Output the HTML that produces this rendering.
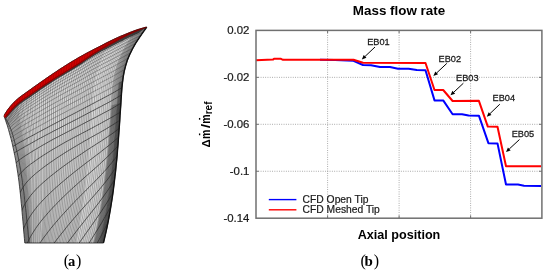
<!DOCTYPE html>
<html><head><meta charset="utf-8"><style>
html,body{margin:0;padding:0;background:#fff;width:550px;height:275px;overflow:hidden}
svg{display:block}
text{font-family:"Liberation Sans",Arial,sans-serif;fill:#1a1a1a}
.tk{font-size:11.4px;stroke:#1a1a1a;stroke-width:0.22px}
.eb{font-size:9.2px;stroke:#1a1a1a;stroke-width:0.26px;letter-spacing:0px}
.lg{font-size:10.3px;stroke:#1a1a1a;stroke-width:0.2px}
.ttl{font-size:13.4px;font-weight:bold;fill:#000}
.xl{font-size:12.6px;font-weight:bold;fill:#000}
.yl{font-size:10.5px;font-weight:bold;fill:#000}
.sub{font-size:9.5px}
.cap{font-family:"Liberation Serif",serif;font-size:16px;fill:#000}
.capb{font-weight:bold;font-size:13.5px}
</style></head><body>
<svg width="550" height="275" viewBox="0 0 550 275" xmlns="http://www.w3.org/2000/svg">
<g><defs><clipPath id="bc"><path d="M4.4,114.9L8.0,109.3L11.7,104.8L15.3,101.0L19.0,97.8L22.6,95.1L26.2,92.5L29.9,89.9L33.5,87.3L37.2,84.7L40.8,82.2L44.5,79.6L48.1,77.1L51.7,74.6L55.4,72.2L59.0,69.7L62.7,67.4L66.3,65.1L69.9,62.8L73.6,60.6L77.2,58.5L80.9,56.4L84.5,54.4L88.1,52.4L91.8,50.5L95.4,48.6L99.1,46.8L102.7,44.9L106.3,43.0L110.0,41.2L113.6,39.4L117.3,37.7L120.9,36.1L124.6,34.7L128.2,33.2L131.8,31.7L135.5,30.4L139.1,29.2L142.8,28.1L146.4,27.1L142.8,32.6L139.0,38.2L135.4,43.7L132.3,49.2L129.6,54.8L127.3,60.3L125.6,65.9L124.2,71.4L123.2,76.9L122.5,82.5L121.9,88.0L121.5,93.5L121.1,99.1L120.8,104.6L120.4,110.1L120.0,115.7L119.7,121.2L119.3,126.7L118.9,132.3L118.5,137.8L118.1,143.4L117.6,148.9L117.2,154.4L116.7,160.0L116.1,165.5L115.6,171.0L114.9,176.6L114.3,182.1L113.6,187.6L112.9,193.2L112.1,198.7L111.2,204.2L110.3,209.8L109.3,215.3L108.3,220.9L107.2,226.4L106.0,231.9L104.7,237.5L103.4,243.0L24.8,243.0L24.4,238.6L24.0,234.3L23.6,229.9L23.3,225.5L22.9,221.2L22.5,216.8L22.1,212.4L21.8,208.1L21.3,203.7L20.9,199.3L20.5,195.0L20.0,190.6L19.5,186.2L19.0,181.9L18.4,177.5L17.8,173.2L17.1,168.8L16.4,164.4L15.7,160.1L14.8,155.7L13.9,151.3L13.0,147.0L12.0,142.6L10.9,138.2L9.7,133.9L8.5,129.5L7.2,125.1L5.7,120.8L4.2,116.4Z"/></clipPath><linearGradient id="bg" x1="0" y1="0" x2="1" y2="0" gradientUnits="userSpaceOnUse" gradientTransform="translate(0,0)"></linearGradient></defs><defs><linearGradient id="bf" x1="0" y1="27" x2="0" y2="243" gradientUnits="userSpaceOnUse"><stop offset="0" stop-color="#e2e2e2"/><stop offset="0.4" stop-color="#d6d6d6"/><stop offset="1" stop-color="#cccccc"/></linearGradient></defs><path d="M4.4,114.9L8.0,109.3L11.7,104.8L15.3,101.0L19.0,97.8L22.6,95.1L26.2,92.5L29.9,89.9L33.5,87.3L37.2,84.7L40.8,82.2L44.5,79.6L48.1,77.1L51.7,74.6L55.4,72.2L59.0,69.7L62.7,67.4L66.3,65.1L69.9,62.8L73.6,60.6L77.2,58.5L80.9,56.4L84.5,54.4L88.1,52.4L91.8,50.5L95.4,48.6L99.1,46.8L102.7,44.9L106.3,43.0L110.0,41.2L113.6,39.4L117.3,37.7L120.9,36.1L124.6,34.7L128.2,33.2L131.8,31.7L135.5,30.4L139.1,29.2L142.8,28.1L146.4,27.1L142.8,32.6L139.0,38.2L135.4,43.7L132.3,49.2L129.6,54.8L127.3,60.3L125.6,65.9L124.2,71.4L123.2,76.9L122.5,82.5L121.9,88.0L121.5,93.5L121.1,99.1L120.8,104.6L120.4,110.1L120.0,115.7L119.7,121.2L119.3,126.7L118.9,132.3L118.5,137.8L118.1,143.4L117.6,148.9L117.2,154.4L116.7,160.0L116.1,165.5L115.6,171.0L114.9,176.6L114.3,182.1L113.6,187.6L112.9,193.2L112.1,198.7L111.2,204.2L110.3,209.8L109.3,215.3L108.3,220.9L107.2,226.4L106.0,231.9L104.7,237.5L103.4,243.0L24.8,243.0L24.4,238.6L24.0,234.3L23.6,229.9L23.3,225.5L22.9,221.2L22.5,216.8L22.1,212.4L21.8,208.1L21.3,203.7L20.9,199.3L20.5,195.0L20.0,190.6L19.5,186.2L19.0,181.9L18.4,177.5L17.8,173.2L17.1,168.8L16.4,164.4L15.7,160.1L14.8,155.7L13.9,151.3L13.0,147.0L12.0,142.6L10.9,138.2L9.7,133.9L8.5,129.5L7.2,125.1L5.7,120.8L4.2,116.4Z" fill="url(#bf)"/><g clip-path="url(#bc)"><path d="M6.3,117.4L8.8,125.8L11.1,134.1L13.1,142.5L14.9,150.9L16.5,159.3L17.8,167.6L19.0,176.0L20.0,184.4L20.9,192.8L21.8,201.1L22.5,209.5L23.2,217.9L23.9,226.3L24.5,234.6L25.2,243.0M7.3,115.6L9.8,124.1L12.0,132.6L14.0,141.1L15.7,149.6L17.2,158.1L18.6,166.6L19.7,175.1L20.7,183.6L21.6,192.0L22.4,200.5L23.1,209.0L23.7,217.5L24.4,226.0L25.0,234.5L25.7,243.0M8.3,113.9L10.8,122.5L12.9,131.1L14.8,139.7L16.5,148.3L18.0,156.9L19.3,165.6L20.4,174.2L21.4,182.8L22.2,191.4L23.0,200.0L23.6,208.6L24.3,217.2L24.9,225.8L25.5,234.4L26.1,243.0M9.4,112.3L11.7,121.0L13.8,129.7L15.7,138.4L17.3,147.1L18.8,155.9L20.0,164.6L21.1,173.3L22.1,182.0L22.9,190.7L23.6,199.4L24.2,208.1L24.8,216.9L25.4,225.6L26.0,234.3L26.6,243.0M10.5,110.7L12.7,119.5L14.7,128.3L16.5,137.2L18.1,146.0L19.6,154.8L20.8,163.6L21.9,172.4L22.8,181.3L23.5,190.1L24.2,198.9L24.8,207.7L25.4,216.5L25.9,225.4L26.5,234.2L27.0,243.0M11.6,109.2L13.8,118.1L15.7,127.0L17.4,135.9L19.0,144.9L20.4,153.8L21.6,162.7L22.6,171.6L23.5,180.5L24.2,189.5L24.9,198.4L25.5,207.3L26.0,216.2L26.5,225.2L27.0,234.1L27.5,243.0M12.8,107.7L14.8,116.7L16.7,125.7L18.3,134.7L19.9,143.7L21.2,152.8L22.4,161.8L23.4,170.8L24.2,179.8L25.0,188.9L25.6,197.9L26.1,206.9L26.6,215.9L27.1,225.0L27.5,234.0L28.0,243.0M14.0,106.2L15.9,115.3L17.7,124.4L19.3,133.6L20.8,142.7L22.1,151.8L23.2,160.9L24.2,170.0L25.0,179.2L25.7,188.3L26.3,197.4L26.8,206.5L27.2,215.6L27.7,224.8L28.1,233.9L28.5,243.0M15.3,104.8L17.1,114.0L18.7,123.2L20.3,132.4L21.7,141.6L23.0,150.8L24.1,160.1L25.0,169.3L25.8,178.5L26.5,187.7L27.0,196.9L27.5,206.1L27.9,215.4L28.3,224.6L28.6,233.8L29.0,243.0M16.6,103.4L18.3,112.7L19.8,122.0L21.3,131.3L22.7,140.6L24.0,149.9L25.0,159.2L25.9,168.5L26.6,177.8L27.3,187.1L27.8,196.5L28.2,205.8L28.6,215.1L28.9,224.4L29.2,233.7L29.6,243.0M17.9,102.0L19.5,111.4L21.0,120.8L22.4,130.2L23.7,139.6L24.9,149.0L26.0,158.4L26.8,167.8L27.5,177.2L28.1,186.6L28.6,196.0L29.0,205.4L29.3,214.8L29.6,224.2L29.9,233.6L30.1,243.0M19.4,100.6L20.8,110.1L22.2,119.6L23.5,129.1L24.8,138.6L26.0,148.1L27.0,157.6L27.8,167.1L28.5,176.6L29.0,186.1L29.4,195.5L29.8,205.0L30.1,214.5L30.3,224.0L30.5,233.5L30.8,243.0M20.8,99.3L22.2,108.9L23.5,118.5L24.7,128.0L26.0,137.6L27.1,147.2L28.0,156.8L28.8,166.4L29.4,175.9L29.9,185.5L30.3,195.1L30.6,204.7L30.9,214.3L31.1,223.8L31.2,233.4L31.4,243.0M22.4,98.0L23.6,107.7L24.8,117.3L26.0,127.0L27.1,136.7L28.2,146.3L29.1,156.0L29.8,165.7L30.4,175.3L30.9,185.0L31.2,194.7L31.5,204.3L31.7,214.0L31.9,223.7L32.0,233.3L32.1,243.0M24.0,96.7L25.1,106.5L26.2,116.2L27.3,126.0L28.4,135.7L29.4,145.5L30.3,155.2L30.9,165.0L31.5,174.7L31.9,184.5L32.2,194.2L32.4,204.0L32.6,213.7L32.7,223.5L32.7,233.2L32.8,243.0M25.8,95.4L26.7,105.3L27.6,115.1L28.6,124.9L29.7,134.8L30.6,144.6L31.5,154.5L32.1,164.3L32.6,174.1L33.0,184.0L33.2,193.8L33.4,203.6L33.5,213.5L33.6,223.3L33.6,233.2L33.5,243.0M27.5,94.1L28.3,104.1L29.1,114.0L30.1,123.9L31.0,133.8L31.9,143.8L32.7,153.7L33.3,163.6L33.8,173.5L34.1,183.5L34.3,193.4L34.4,203.3L34.5,213.2L34.5,223.2L34.4,233.1L34.3,243.0M29.4,92.8L30.0,102.8L30.7,112.9L31.5,122.9L32.4,132.9L33.3,142.9L34.0,152.9L34.6,162.9L35.0,172.9L35.2,182.9L35.4,192.9L35.5,203.0L35.5,213.0L35.4,223.0L35.3,233.0L35.1,243.0M31.3,91.5L31.8,101.6L32.3,111.7L33.1,121.8L33.9,131.9L34.7,142.0L35.4,152.1L35.9,162.2L36.2,172.3L36.5,182.4L36.6,192.5L36.6,202.6L36.5,212.7L36.4,222.8L36.2,232.9L36.0,243.0M33.4,90.1L33.6,100.3L34.0,110.5L34.7,120.7L35.4,130.9L36.2,141.0L36.8,151.2L37.2,161.4L37.5,171.6L37.7,181.8L37.8,192.0L37.8,202.2L37.6,212.4L37.4,222.6L37.2,232.8L36.9,243.0M35.4,88.6L35.6,98.9L35.8,109.2L36.3,119.5L37.0,129.8L37.7,140.1L38.3,150.4L38.6,160.7L38.9,171.0L39.0,181.2L39.0,191.5L39.0,201.8L38.8,212.1L38.5,222.4L38.2,232.7L37.8,243.0M37.6,87.1L37.5,97.5L37.6,107.9L38.0,118.3L38.7,128.7L39.3,139.1L39.8,149.5L40.1,159.9L40.3,170.3L40.4,180.7L40.4,191.0L40.2,201.4L40.0,211.8L39.6,222.2L39.3,232.6L38.8,243.0M39.8,85.6L39.6,96.1L39.5,106.6L39.8,117.1L40.3,127.6L40.9,138.1L41.3,148.6L41.6,159.1L41.8,169.5L41.8,180.0L41.7,190.5L41.5,201.0L41.2,211.5L40.8,222.0L40.3,232.5L39.8,243.0M42.1,84.0L41.7,94.6L41.4,105.2L41.6,115.8L42.1,126.4L42.6,137.0L43.0,147.6L43.2,158.2L43.3,168.8L43.3,179.4L43.1,190.0L42.8,200.6L42.5,211.2L42.0,221.8L41.5,232.4L40.9,243.0M44.5,82.4L43.8,93.1L43.4,103.8L43.5,114.5L43.9,125.3L44.3,136.0L44.6,146.7L44.8,157.4L44.9,168.1L44.8,178.8L44.6,189.5L44.2,200.2L43.8,210.9L43.3,221.6L42.7,232.3L42.0,243.0M46.9,80.8L46.1,91.6L45.5,102.4L45.4,113.3L45.7,124.1L46.1,134.9L46.4,145.7L46.5,156.5L46.5,167.3L46.3,178.1L46.0,188.9L45.7,199.8L45.2,210.6L44.6,221.4L43.9,232.2L43.1,243.0M49.4,79.2L48.3,90.1L47.6,101.0L47.4,111.9L47.6,122.9L47.9,133.8L48.1,144.7L48.2,155.6L48.1,166.6L47.9,177.5L47.6,188.4L47.1,199.3L46.6,210.2L45.9,221.2L45.1,232.1L44.3,243.0M51.9,77.5L50.6,88.6L49.7,99.6L49.4,110.6L49.5,121.7L49.8,132.7L49.9,143.7L49.9,154.8L49.8,165.8L49.5,176.8L49.1,187.8L48.6,198.9L48.0,209.9L47.3,220.9L46.4,232.0L45.5,243.0M54.5,75.9L53.0,87.0L51.9,98.2L51.5,109.3L51.5,120.5L51.7,131.6L51.7,142.7L51.7,153.9L51.5,165.0L51.2,176.2L50.7,187.3L50.2,198.4L49.5,209.6L48.7,220.7L47.7,231.9L46.7,243.0M57.1,74.3L55.4,85.5L54.1,96.8L53.5,108.0L53.5,119.3L53.6,130.5L53.6,141.8L53.5,153.0L53.3,164.3L52.9,175.5L52.4,186.8L51.7,198.0L51.0,209.3L50.1,220.5L49.1,231.8L48.0,243.0M59.8,72.6L57.8,84.0L56.3,95.3L55.6,106.7L55.5,118.1L55.5,129.4L55.5,140.8L55.3,152.1L55.0,163.5L54.6,174.8L54.0,186.2L53.3,197.6L52.5,208.9L51.6,220.3L50.5,231.6L49.3,243.0M62.5,71.0L60.3,82.5L58.6,93.9L57.8,105.4L57.5,116.9L57.5,128.3L57.4,139.8L57.2,151.3L56.8,162.7L56.3,174.2L55.7,185.7L55.0,197.1L54.1,208.6L53.1,220.1L51.9,231.5L50.6,243.0M65.2,69.4L62.7,80.9L60.9,92.5L59.9,104.1L59.6,115.7L59.5,127.2L59.4,138.8L59.1,150.4L58.7,162.0L58.1,173.5L57.4,185.1L56.6,196.7L55.7,208.3L54.6,219.8L53.3,231.4L51.9,243.0M67.9,67.8L65.2,79.4L63.2,91.1L62.1,102.8L61.7,114.5L61.5,126.2L61.3,137.9L61.0,149.5L60.5,161.2L59.9,172.9L59.2,184.6L58.3,196.3L57.3,208.0L56.1,219.6L54.8,231.3L53.3,243.0M70.6,66.2L67.7,78.0L65.5,89.8L64.3,101.5L63.8,113.3L63.6,125.1L63.3,136.9L62.9,148.7L62.4,160.5L61.7,172.3L60.9,184.1L60.0,195.8L58.9,207.6L57.7,219.4L56.3,231.2L54.7,243.0M73.4,64.6L70.2,76.5L67.8,88.4L66.4,100.3L65.9,112.2L65.6,124.1L65.3,136.0L64.8,147.9L64.2,159.7L63.5,171.6L62.7,183.5L61.7,195.4L60.6,207.3L59.2,219.2L57.8,231.1L56.1,243.0M76.1,63.0L72.7,75.0L70.1,87.0L68.6,99.0L67.9,111.0L67.6,123.0L67.2,135.0L66.7,147.0L66.1,159.0L65.4,171.0L64.5,183.0L63.4,195.0L62.2,207.0L60.8,219.0L59.3,231.0L57.5,243.0M78.9,61.4L75.2,73.5L72.4,85.6L70.8,97.7L70.0,109.8L69.6,121.9L69.2,134.0L68.7,146.1L68.0,158.2L67.2,170.4L66.2,182.5L65.1,194.6L63.9,206.7L62.4,218.8L60.8,230.9L59.0,243.0M81.6,59.7L77.7,71.9L74.7,84.1L72.9,96.4L72.1,108.6L71.7,120.8L71.2,133.0L70.6,145.2L69.9,157.5L69.0,169.7L68.0,181.9L66.9,194.1L65.6,206.3L64.0,218.6L62.3,230.8L60.4,243.0M84.3,58.0L80.1,70.3L77.0,82.6L75.1,95.0L74.2,107.3L73.7,119.6L73.1,132.0L72.5,144.3L71.7,156.7L70.8,169.0L69.8,181.3L68.6,193.7L67.2,206.0L65.7,218.3L63.9,230.7L61.9,243.0M86.9,56.3L82.6,68.7L79.2,81.2L77.2,93.6L76.2,106.1L75.6,118.5L75.1,131.0L74.4,143.4L73.6,155.9L72.7,168.3L71.6,180.8L70.3,193.2L68.9,205.7L67.3,218.1L65.4,230.6L63.4,243.0M89.6,54.6L85.0,67.2L81.4,79.7L79.3,92.3L78.2,104.8L77.6,117.4L77.0,130.0L76.3,142.5L75.4,155.1L74.5,167.6L73.3,180.2L72.0,192.8L70.6,205.3L68.9,217.9L67.0,230.4L64.8,243.0M92.2,53.0L87.4,65.7L83.6,78.3L81.3,91.0L80.2,103.7L79.6,116.3L78.9,129.0L78.1,141.7L77.3,154.3L76.3,167.0L75.1,179.7L73.8,192.3L72.2,205.0L70.5,217.7L68.5,230.3L66.3,243.0M94.8,51.5L89.7,64.3L85.8,77.1L83.4,89.8L82.2,102.6L81.5,115.4L80.8,128.1L80.0,140.9L79.1,153.7L78.0,166.4L76.8,179.2L75.4,191.9L73.9,204.7L72.1,217.5L70.0,230.2L67.8,243.0M97.3,50.1L92.0,63.0L87.9,75.9L85.4,88.7L84.1,101.6L83.4,114.4L82.6,127.3L81.8,140.1L80.9,153.0L79.8,165.9L78.5,178.7L77.1,191.6L75.5,204.4L73.7,217.3L71.6,230.1L69.2,243.0M99.7,48.8L94.2,61.8L89.9,74.7L87.3,87.7L86.0,100.6L85.2,113.6L84.4,126.5L83.6,139.4L82.6,152.4L81.5,165.3L80.2,178.3L78.8,191.2L77.1,204.2L75.2,217.1L73.1,230.1L70.7,243.0M102.1,47.6L96.4,60.6L91.9,73.6L89.2,86.7L87.8,99.7L87.0,112.7L86.2,125.8L85.3,138.8L84.3,151.8L83.2,164.8L81.9,177.9L80.4,190.9L78.7,203.9L76.8,216.9L74.6,230.0L72.1,243.0M104.5,46.4L98.5,59.5L93.9,72.6L91.1,85.7L89.6,98.8L88.8,111.9L87.9,125.0L87.0,138.1L86.0,151.2L84.8,164.4L83.5,177.5L82.0,190.6L80.3,203.7L78.3,216.8L76.0,229.9L73.5,243.0M106.8,45.2L100.6,58.4L95.8,71.6L92.9,84.8L91.4,98.0L90.5,111.2L89.6,124.3L88.7,137.5L87.7,150.7L86.5,163.9L85.1,177.1L83.6,190.3L81.8,203.4L79.8,216.6L77.5,229.8L74.9,243.0M109.0,44.1L102.6,57.4L97.7,70.6L94.7,83.9L93.1,97.2L92.2,110.4L91.3,123.7L90.3,136.9L89.3,150.2L88.1,163.5L86.7,176.7L85.1,190.0L83.3,203.2L81.3,216.5L78.9,229.7L76.3,243.0M111.2,43.0L104.6,56.4L99.5,69.7L96.4,83.0L94.7,96.4L93.8,109.7L92.9,123.0L91.9,136.4L90.8,149.7L89.6,163.0L88.2,176.3L86.6,189.7L84.8,203.0L82.7,216.3L80.3,229.7L77.6,243.0M113.2,42.0L106.5,55.4L101.2,68.8L98.0,82.2L96.3,95.6L95.4,109.0L94.5,122.4L93.5,135.8L92.4,149.2L91.1,162.6L89.7,176.0L88.1,189.4L86.2,202.8L84.1,216.2L81.7,229.6L78.9,243.0M115.3,41.0L108.3,54.4L102.9,67.9L99.6,81.4L97.9,94.8L96.9,108.3L96.0,121.8L95.0,135.2L93.8,148.7L92.6,162.2L91.2,175.7L89.5,189.1L87.7,202.6L85.5,216.1L83.0,229.5L80.2,243.0M117.2,40.0L110.1,53.5L104.5,67.1L101.1,80.6L99.4,94.1L98.4,107.7L97.4,121.2L96.4,134.7L95.3,148.3L94.0,161.8L92.6,175.3L90.9,188.9L89.0,202.4L86.8,215.9L84.3,229.5L81.5,243.0M119.1,39.0L111.8,52.6L106.1,66.2L102.6,79.8L100.8,93.4L99.8,107.0L98.8,120.6L97.8,134.2L96.7,147.8L95.4,161.4L93.9,175.0L92.3,188.6L90.4,202.2L88.1,215.8L85.6,229.4L82.7,243.0M120.9,38.1L113.4,51.8L107.6,65.5L104.0,79.1L102.2,92.8L101.2,106.4L100.2,120.1L99.1,133.7L98.0,147.4L96.7,161.1L95.3,174.7L93.6,188.4L91.6,202.0L89.4,215.7L86.9,229.3L83.9,243.0M122.6,37.3L115.0,51.0L109.0,64.7L105.4,78.4L103.5,92.1L102.5,105.9L101.5,119.6L100.4,133.3L99.3,147.0L98.0,160.7L96.5,174.4L94.8,188.1L92.9,201.9L90.6,215.6L88.1,229.3L85.1,243.0M124.2,36.5L116.4,50.2L110.4,64.0L106.7,77.8L104.8,91.5L103.7,105.3L102.7,119.1L101.7,132.9L100.5,146.6L99.2,160.4L97.8,174.2L96.1,187.9L94.1,201.7L91.8,215.5L89.2,229.2L86.2,243.0M125.8,35.7L117.9,49.5L111.7,63.4L107.9,77.2L106.0,91.0L104.9,104.8L103.9,118.6L102.9,132.4L101.7,146.3L100.4,160.1L98.9,173.9L97.2,187.7L95.3,201.5L93.0,215.4L90.3,229.2L87.3,243.0M127.3,35.0L119.2,48.9L112.9,62.7L109.1,76.6L107.2,90.5L106.1,104.3L105.1,118.2L104.0,132.1L102.9,145.9L101.6,159.8L100.1,173.7L98.4,187.5L96.4,201.4L94.1,215.3L91.4,229.1L88.4,243.0M128.7,34.3L120.5,48.2L114.1,62.2L110.3,76.1L108.3,90.0L107.2,103.9L106.2,117.8L105.1,131.7L103.9,145.6L102.6,159.5L101.2,173.4L99.4,187.4L97.4,201.3L95.1,215.2L92.5,229.1L89.4,243.0M130.1,33.7L121.7,47.7L115.3,61.6L111.3,75.6L109.3,89.5L108.2,103.5L107.2,117.4L106.1,131.4L105.0,145.3L103.7,159.3L102.2,173.2L100.5,187.2L98.5,201.1L96.2,215.1L93.5,229.0L90.4,243.0M131.4,33.1L122.9,47.1L116.3,61.1L112.3,75.1L110.3,89.1L109.2,103.1L108.2,117.1L107.1,131.1L106.0,145.1L104.7,159.0L103.2,173.0L101.5,187.0L99.5,201.0L97.1,215.0L94.4,229.0L91.3,243.0M132.6,32.6L124.0,46.6L117.3,60.6L113.3,74.7L111.3,88.7L110.1,102.7L109.1,116.7L108.1,130.8L106.9,144.8L105.6,158.8L104.1,172.9L102.4,186.9L100.4,200.9L98.1,214.9L95.3,229.0L92.2,243.0M133.7,32.1L125.0,46.1L118.3,60.2L114.2,74.3L112.2,88.3L111.0,102.4L110.0,116.4L109.0,130.5L107.8,144.6L106.5,158.6L105.0,172.7L103.3,186.8L101.3,200.8L99.0,214.9L96.2,228.9L93.1,243.0M134.8,31.6L126.0,45.7L119.2,59.8L115.1,73.9L113.0,88.0L111.9,102.1L110.9,116.2L109.8,130.3L108.7,144.4L107.4,158.4L105.9,172.5L104.2,186.6L102.2,200.7L99.8,214.8L97.1,228.9L93.9,243.0M135.9,31.2L127.0,45.3L120.1,59.4L115.9,73.5L113.8,87.7L112.7,101.8L111.7,115.9L110.6,130.0L109.5,144.2L108.2,158.3L106.7,172.4L105.0,186.5L103.0,200.6L100.6,214.8L97.9,228.9L94.7,243.0M136.8,30.8L127.8,44.9L120.9,59.1L116.7,73.2L114.6,87.4L113.4,101.5L112.4,115.7L111.4,129.8L110.2,144.0L109.0,158.1L107.5,172.3L105.8,186.4L103.7,200.6L101.4,214.7L98.6,228.9L95.4,243.0M137.7,30.4L128.7,44.6L121.6,58.8L117.4,72.9L115.3,87.1L114.1,101.3L113.1,115.5L112.1,129.6L111.0,143.8L109.7,158.0L108.2,172.1L106.5,186.3L104.5,200.5L102.1,214.7L99.3,228.8L96.1,243.0M138.6,30.1L129.4,44.3L122.4,58.5L118.1,72.7L115.9,86.9L114.8,101.1L113.8,115.3L112.8,129.4L111.7,143.6L110.4,157.8L108.9,172.0L107.2,186.2L105.2,200.4L102.8,214.6L100.0,228.8L96.8,243.0M139.4,29.8L130.2,44.0L123.0,58.2L118.7,72.4L116.6,86.6L115.4,100.9L114.5,115.1L113.4,129.3L112.3,143.5L111.0,157.7L109.6,171.9L107.8,186.1L105.8,200.4L103.5,214.6L100.7,228.8L97.4,243.0M140.2,29.5L130.9,43.7L123.7,58.0L119.3,72.2L117.2,86.4L116.0,100.7L115.1,114.9L114.0,129.1L112.9,143.4L111.7,157.6L110.2,171.8L108.5,186.1L106.5,200.3L104.1,214.5L101.3,228.8L98.0,243.0M140.9,29.2L131.5,43.5L124.3,57.7L119.9,72.0L117.7,86.2L116.6,100.5L115.6,114.7L114.6,129.0L113.5,143.2L112.2,157.5L110.8,171.7L109.1,186.0L107.1,200.2L104.7,214.5L101.9,228.7L98.6,243.0M141.6,29.0L132.1,43.2L124.8,57.5L120.4,71.8L118.3,86.1L117.2,100.3L116.2,114.6L115.2,128.9L114.1,143.1L112.8,157.4L111.3,171.7L109.6,185.9L107.6,200.2L105.2,214.5L102.4,228.7L99.2,243.0M142.3,28.8L132.7,43.0L125.4,57.3L121.0,71.6L118.8,85.9L117.7,100.2L116.7,114.5L115.7,128.7L114.6,143.0L113.3,157.3L111.9,171.6L110.2,185.9L108.2,200.2L105.8,214.4L103.0,228.7L99.7,243.0M142.9,28.5L133.3,42.8L125.9,57.1L121.5,71.4L119.3,85.7L118.2,100.0L117.2,114.3L116.2,128.6L115.1,142.9L113.8,157.2L112.4,171.5L110.7,185.8L108.7,200.1L106.3,214.4L103.5,228.7L100.2,243.0M143.5,28.3L133.8,42.7L126.4,57.0L121.9,71.3L119.7,85.6L118.6,99.9L117.7,114.2L116.7,128.5L115.6,142.8L114.3,157.1L112.9,171.4L111.2,185.8L109.2,200.1L106.8,214.4L104.0,228.7L100.7,243.0M144.1,28.2L134.3,42.5L126.9,56.8L122.4,71.1L120.2,85.4L119.1,99.8L118.1,114.1L117.1,128.4L116.0,142.7L114.8,157.1L113.4,171.4L111.7,185.7L109.7,200.0L107.3,214.4L104.5,228.7L101.2,243.0M144.6,28.0L134.8,42.3L127.3,56.7L122.8,71.0L120.6,85.3L119.5,99.7L118.5,114.0L117.5,128.3L116.5,142.7L115.2,157.0L113.8,171.3L112.1,185.7L110.1,200.0L107.7,214.3L104.9,228.7L101.6,243.0M145.1,27.8L135.3,42.2L127.8,56.5L123.2,70.9L121.0,85.2L119.9,99.5L119.0,113.9L118.0,128.2L116.9,142.6L115.7,156.9L114.3,171.3L112.6,185.6L110.6,200.0L108.2,214.3L105.4,228.7L102.1,243.0M145.7,27.7L135.8,42.0L128.2,56.4L123.6,70.7L121.4,85.1L120.3,99.4L119.4,113.8L118.4,128.2L117.3,142.5L116.1,156.9L114.7,171.2L113.0,185.6L111.0,199.9L108.6,214.3L105.8,228.6L102.5,243.0M146.2,27.5L136.2,41.9L128.6,56.2L124.0,70.6L121.8,85.0L120.7,99.3L119.8,113.7L118.8,128.1L117.7,142.4L116.5,156.8L115.1,171.2L113.5,185.5L111.5,199.9L109.1,214.3L106.3,228.6L102.9,243.0" fill="none" stroke="#4c4c4c" stroke-width="0.4"/><path d="M5.8,118.2L8.4,126.5L10.7,134.8L12.8,143.2L14.6,151.5L16.1,159.8L17.5,168.1L18.7,176.4L19.7,184.8L20.7,193.1L21.5,201.4L22.2,209.7L22.9,218.0L23.6,226.4L24.3,234.7L25.1,243.0M6.6,116.8L9.1,125.2L11.4,133.6L13.4,142.1L15.2,150.5L16.7,158.9L18.1,167.3L19.2,175.7L20.3,184.1L21.1,192.5L21.9,200.9L22.7,209.4L23.4,217.8L24.0,226.2L24.7,234.6L25.4,243.0M7.5,115.3L10.0,123.8L12.2,132.3L14.1,140.9L15.8,149.4L17.4,157.9L18.7,166.4L19.8,174.9L20.8,183.4L21.7,191.9L22.5,200.4L23.2,209.0L23.8,217.5L24.5,226.0L25.1,234.5L25.8,243.0M8.4,113.8L10.8,122.4L13.0,131.0L14.9,139.6L16.6,148.2L18.1,156.8L19.4,165.5L20.5,174.1L21.4,182.7L22.3,191.3L23.0,199.9L23.7,208.5L24.3,217.2L24.9,225.8L25.5,234.4L26.2,243.0M9.5,112.2L11.8,120.9L13.8,129.6L15.7,138.4L17.4,147.1L18.8,155.8L20.1,164.5L21.2,173.2L22.1,182.0L22.9,190.7L23.6,199.4L24.3,208.1L24.9,216.8L25.4,225.6L26.0,234.3L26.6,243.0M10.6,110.6L12.8,119.5L14.8,128.3L16.6,137.1L18.2,145.9L19.6,154.8L20.8,163.6L21.9,172.4L22.8,181.2L23.6,190.1L24.3,198.9L24.9,207.7L25.4,216.5L26.0,225.4L26.5,234.2L27.0,243.0M11.7,109.1L13.8,118.0L15.7,126.9L17.5,135.9L19.0,144.8L20.4,153.7L21.6,162.7L22.6,171.6L23.5,180.5L24.3,189.4L24.9,198.4L25.5,207.3L26.0,216.2L26.5,225.1L27.0,234.1L27.5,243.0M12.8,107.6L14.9,116.6L16.7,125.6L18.4,134.7L19.9,143.7L21.3,152.7L22.4,161.8L23.4,170.8L24.3,179.8L25.0,188.8L25.6,197.9L26.1,206.9L26.6,215.9L27.1,224.9L27.5,234.0L28.0,243.0M14.0,106.1L16.0,115.3L17.7,124.4L19.3,133.5L20.8,142.6L22.1,151.8L23.3,160.9L24.2,170.0L25.0,179.1L25.7,188.3L26.3,197.4L26.8,206.5L27.3,215.6L27.7,224.8L28.1,233.9L28.5,243.0M15.3,104.7L17.1,114.0L18.7,123.2L20.3,132.4L21.7,141.6L23.0,150.8L24.1,160.0L25.0,169.3L25.8,178.5L26.5,187.7L27.0,196.9L27.5,206.1L27.9,215.3L28.3,224.6L28.6,233.8L29.0,243.0M16.5,103.4L18.2,112.7L19.8,122.0L21.3,131.3L22.7,140.6L23.9,149.9L25.0,159.2L25.9,168.5L26.6,177.9L27.2,187.2L27.8,196.5L28.2,205.8L28.6,215.1L28.9,224.4L29.2,233.7L29.5,243.0" fill="none" stroke="#6a6a6a" stroke-width="0.3"/><path d="M122.4,81.3L121.4,92.1L120.7,102.9L120.0,113.7L119.2,124.4L118.5,135.2L117.6,146.0L116.7,156.8L115.7,167.6L114.5,178.3L113.2,189.1L111.6,199.9L109.9,210.7L107.9,221.4L105.7,232.2L103.1,243.0M122.1,81.4L121.1,92.2L120.4,103.0L119.7,113.7L118.9,124.5L118.2,135.3L117.3,146.0L116.4,156.8L115.4,167.6L114.2,178.4L112.8,189.1L111.3,199.9L109.6,210.7L107.6,221.5L105.3,232.2L102.8,243.0M121.8,81.5L120.7,92.3L120.0,103.0L119.3,113.8L118.6,124.6L117.8,135.3L117.0,146.1L116.0,156.9L115.0,167.6L113.8,178.4L112.5,189.2L110.9,199.9L109.2,210.7L107.2,221.5L105.0,232.2L102.4,243.0M121.4,81.6L120.4,92.4L119.6,103.1L118.9,113.9L118.2,124.7L117.4,135.4L116.6,146.2L115.6,156.9L114.6,167.7L113.4,178.4L112.1,189.2L110.5,200.0L108.8,210.7L106.8,221.5L104.6,232.2L102.0,243.0M121.0,81.7L120.0,92.5L119.2,103.2L118.5,114.0L117.8,124.7L117.0,135.5L116.2,146.2L115.2,157.0L114.2,167.7L113.0,178.5L111.6,189.2L110.1,200.0L108.4,210.7L106.4,221.5L104.1,232.2L101.6,243.0M120.6,81.9L119.5,92.6L118.8,103.4L118.1,114.1L117.3,124.8L116.6,135.6L115.7,146.3L114.8,157.1L113.7,167.8L112.5,178.5L111.2,189.3L109.6,200.0L107.9,210.8L105.9,221.5L103.7,232.3L101.2,243.0M120.1,82.0L119.1,92.7L118.4,103.5L117.6,114.2L116.9,124.9L116.1,135.7L115.2,146.4L114.3,157.1L113.2,167.9L112.1,178.6L110.7,189.3L109.2,200.1L107.4,210.8L105.4,221.5L103.2,232.3L100.7,243.0M119.6,82.2L118.6,92.9L117.9,103.6L117.2,114.3L116.4,125.1L115.6,135.8L114.8,146.5L113.8,157.2L112.8,167.9L111.6,178.7L110.2,189.4L108.7,200.1L106.9,210.8L104.9,221.6L102.7,232.3L100.2,243.0M119.2,82.3L118.2,93.0L117.4,103.7L116.7,114.5L115.9,125.2L115.1,135.9L114.3,146.6L113.3,157.3L112.3,168.0L111.1,178.7L109.7,189.4L108.2,200.2L106.4,210.9L104.4,221.6L102.2,232.3L99.7,243.0" fill="none" stroke="#444" stroke-width="0.35"/><path d="M109.6,43.8L103.2,57.1L98.2,70.4L95.2,83.6L93.6,96.9L92.7,110.2L91.8,123.5L90.8,136.8L89.7,150.0L88.5,163.3L87.1,176.6L85.6,189.9L83.8,203.2L81.7,216.4L79.3,229.7L76.7,243.0M112.4,42.4L105.7,55.8L100.5,69.2L97.4,82.5L95.7,95.9L94.7,109.3L93.8,122.6L92.8,136.0L91.8,149.4L90.5,162.8L89.1,176.1L87.5,189.5L85.7,202.9L83.6,216.3L81.1,229.6L78.4,243.0M115.1,41.0L108.2,54.5L102.8,68.0L99.5,81.4L97.8,94.9L96.8,108.4L95.9,121.8L94.9,135.3L93.8,148.7L92.5,162.2L91.1,175.7L89.4,189.1L87.6,202.6L85.4,216.1L83.0,229.5L80.2,243.0M117.8,39.7L110.6,53.2L105.0,66.8L101.6,80.3L99.9,93.9L98.8,107.5L97.9,121.0L96.9,134.6L95.7,148.1L94.5,161.7L93.0,175.2L91.4,188.8L89.5,202.3L87.3,215.9L84.8,229.4L81.9,243.0M120.4,38.4L113.0,52.0L107.2,65.6L103.7,79.3L101.9,92.9L100.8,106.6L99.9,120.2L98.8,133.9L97.7,147.5L96.4,161.1L94.9,174.8L93.3,188.4L91.3,202.1L89.1,215.7L86.6,229.4L83.6,243.0M123.0,37.1L115.3,50.8L109.4,64.5L105.7,78.3L103.9,92.0L102.8,105.7L101.8,119.4L100.8,133.2L99.6,146.9L98.3,160.6L96.8,174.4L95.2,188.1L93.2,201.8L90.9,215.5L88.4,229.3L85.4,243.0M125.5,35.8L117.6,49.7L111.5,63.5L107.7,77.3L105.8,91.1L104.7,104.9L103.7,118.7L102.7,132.5L101.5,146.3L100.2,160.1L98.7,173.9L97.0,187.8L95.1,201.6L92.8,215.4L90.2,229.2L87.1,243.0M128.0,34.7L119.9,48.6L113.5,62.4L109.7,76.3L107.7,90.2L106.6,104.1L105.6,118.0L104.6,131.9L103.4,145.8L102.1,159.7L100.6,173.6L98.9,187.4L96.9,201.3L94.6,215.2L91.9,229.1L88.9,243.0M130.4,33.5L122.1,47.5L115.6,61.5L111.6,75.4L109.6,89.4L108.5,103.4L107.5,117.3L106.4,131.3L105.3,145.3L104.0,159.2L102.5,173.2L100.7,187.1L98.7,201.1L96.4,215.1L93.7,229.0L90.6,243.0M132.8,32.5L124.2,46.5L117.5,60.5L113.5,74.6L111.4,88.6L110.3,102.7L109.3,116.7L108.3,130.7L107.1,144.8L105.8,158.8L104.3,172.8L102.6,186.9L100.6,200.9L98.2,214.9L95.5,229.0L92.4,243.0" fill="none" stroke="#f6f6f6" stroke-width="0.5"/><path d="M112.1,105.4L111.4,114.6L110.8,123.8L110.1,132.9L109.3,142.1L108.5,151.3L107.6,160.5L106.7,169.6L105.6,178.8L104.5,188.0L103.2,197.1L101.7,206.3L100.1,215.5L98.4,224.7L96.5,233.8L94.3,243.0M112.8,105.2L112.2,114.4L111.5,123.6L110.8,132.7L110.1,141.9L109.3,151.1L108.4,160.3L107.4,169.5L106.4,178.7L105.2,187.9L103.9,197.1L102.5,206.2L100.9,215.4L99.1,224.6L97.2,233.8L95.0,243.0M113.5,104.9L112.9,114.1L112.2,123.4L111.5,132.6L110.8,141.8L110.0,151.0L109.1,160.2L108.2,169.4L107.1,178.6L105.9,187.8L104.6,197.0L103.2,206.2L101.6,215.4L99.9,224.6L97.9,233.8L95.8,243.0M114.3,104.7L113.6,113.9L112.9,123.1L112.2,132.4L111.5,141.6L110.7,150.8L109.8,160.0L108.9,169.2L107.8,178.5L106.7,187.7L105.4,196.9L103.9,206.1L102.3,215.3L100.6,224.6L98.6,233.8L96.5,243.0M115.0,104.5L114.3,113.7L113.7,122.9L113.0,132.2L112.2,141.4L111.4,150.7L110.6,159.9L109.6,169.1L108.6,178.4L107.4,187.6L106.1,196.8L104.7,206.1L103.1,215.3L101.3,224.5L99.4,233.8L97.2,243.0M115.7,104.3L115.0,113.5L114.4,122.8L113.7,132.0L113.0,141.3L112.2,150.5L111.3,159.8L110.4,169.0L109.3,178.3L108.1,187.5L106.9,196.8L105.4,206.0L103.8,215.3L102.0,224.5L100.1,233.8L97.9,243.0M116.4,104.0L115.7,113.3L115.1,122.6L114.4,131.8L113.7,141.1L112.9,150.4L112.0,159.6L111.1,168.9L110.0,178.2L108.9,187.4L107.6,196.7L106.1,205.9L104.5,215.2L102.8,224.5L100.8,233.7L98.6,243.0M117.1,103.8L116.4,113.1L115.8,122.4L115.1,131.7L114.4,141.0L113.6,150.2L112.7,159.5L111.8,168.8L110.8,178.1L109.6,187.3L108.3,196.6L106.9,205.9L105.3,215.2L103.5,224.4L101.5,233.7L99.3,243.0M117.7,103.6L117.1,112.9L116.5,122.2L115.8,131.5L115.1,140.8L114.3,150.1L113.5,159.4L112.5,168.7L111.5,178.0L110.3,187.3L109.0,196.5L107.6,205.8L106.0,215.1L104.2,224.4L102.2,233.7L100.0,243.0M118.4,103.5L117.8,112.8L117.2,122.1L116.5,131.4L115.8,140.7L115.0,150.0L114.2,159.3L113.3,168.6L112.2,177.9L111.1,187.2L109.8,196.5L108.3,205.8L106.7,215.1L104.9,224.4L103.0,233.7L100.8,243.0M119.1,103.3L118.5,112.6L117.9,121.9L117.2,131.2L116.5,140.5L115.7,149.9L114.9,159.2L114.0,168.5L112.9,177.8L111.8,187.1L110.5,196.4L109.1,205.7L107.5,215.1L105.7,224.4L103.7,233.7L101.5,243.0M119.8,103.1L119.2,112.4L118.5,121.8L117.9,131.1L117.2,140.4L116.4,149.7L115.6,159.1L114.7,168.4L113.7,177.7L112.5,187.0L111.2,196.4L109.8,205.7L108.2,215.0L106.4,224.3L104.4,233.7L102.2,243.0" fill="none" stroke="#3a3a3a" stroke-width="0.3"/><path d="M23.8,96.9L24.9,106.6L26.0,116.4L27.1,126.1L28.2,135.9L29.2,145.6L30.1,155.3L30.8,165.1L31.3,174.8L31.8,184.6L32.1,194.3L32.3,204.0L32.5,213.8L32.6,223.5L32.6,233.3L32.7,243.0M28.3,93.6L29.0,103.6L29.8,113.5L30.6,123.5L31.6,133.5L32.5,143.4L33.2,153.4L33.8,163.3L34.2,173.3L34.6,183.2L34.8,193.2L34.9,203.2L34.9,213.1L34.8,223.1L34.8,233.0L34.6,243.0M32.7,90.5L33.1,100.7L33.5,110.8L34.2,121.0L35.0,131.2L35.7,141.3L36.3,151.5L36.8,161.7L37.1,171.8L37.3,182.0L37.4,192.2L37.4,202.3L37.3,212.5L37.1,222.7L36.9,232.8L36.6,243.0M37.1,87.5L37.1,97.8L37.2,108.2L37.6,118.6L38.3,128.9L38.9,139.3L39.4,149.7L39.8,160.1L40.0,170.4L40.1,180.8L40.0,191.2L39.9,201.5L39.7,211.9L39.4,222.3L39.0,232.6L38.6,243.0M41.4,84.5L41.0,95.1L40.8,105.7L41.1,116.2L41.5,126.8L42.1,137.3L42.5,147.9L42.7,158.5L42.8,169.0L42.8,179.6L42.7,190.2L42.4,200.7L42.1,211.3L41.6,221.9L41.1,232.4L40.5,243.0" fill="none" stroke="#e8e8e8" stroke-width="0.4"/><path d="M0.0,129.7L2.5,126.5L5.1,122.8L7.6,118.8L10.2,115.2L12.7,111.9L15.3,109.0L17.8,106.4L20.3,104.1L22.9,102.0L25.4,100.1L28.0,98.3L30.5,96.5L33.1,94.7L35.6,93.0L38.1,91.2L40.7,89.5L43.2,87.8L45.8,86.1L48.3,84.4L50.8,82.8L53.4,81.1L55.9,79.5L58.5,78.0L61.0,76.4L63.6,74.9L66.1,73.4L68.6,71.9L71.2,70.4L73.7,69.0L76.3,67.5L78.8,66.0L81.4,64.4L83.9,62.8L86.4,61.2L89.0,59.6L91.5,58.1L94.1,56.6L96.6,55.2L99.2,53.8L101.7,52.5L104.2,51.2L106.8,49.9L109.3,48.6L111.9,47.3L114.4,45.9L116.9,44.6L119.5,43.3L122.0,42.0L124.6,40.7L127.1,39.4L129.7,38.1L132.2,36.9L134.7,35.7L137.3,34.5L139.8,33.4L142.4,32.4L144.9,31.4L147.5,30.4L150.0,29.5M0.0,130.7L2.5,127.5L5.1,124.0L7.6,120.2L10.2,116.7L12.7,113.5L15.3,110.7L17.8,108.2L20.3,106.0L22.9,103.9L25.4,102.1L28.0,100.3L30.5,98.5L33.1,96.8L35.6,95.1L38.1,93.4L40.7,91.7L43.2,90.0L45.8,88.4L48.3,86.7L50.8,85.1L53.4,83.5L55.9,81.9L58.5,80.4L61.0,78.9L63.6,77.4L66.1,75.9L68.6,74.4L71.2,72.9L73.7,71.5L76.3,70.0L78.8,68.6L81.4,67.0L83.9,65.4L86.4,63.9L89.0,62.3L91.5,60.8L94.1,59.3L96.6,57.9L99.2,56.5L101.7,55.2L104.2,53.9L106.8,52.6L109.3,51.3L111.9,50.0L114.4,48.6L116.9,47.3L119.5,46.0L122.0,44.7L124.6,43.4L127.1,42.0L129.7,40.8L132.2,39.5L134.7,38.3L137.3,37.1L139.8,35.9L142.4,34.8L144.9,33.7L147.5,32.7L150.0,31.7M0.0,131.8L2.5,128.7L5.1,125.3L7.6,121.6L10.2,118.3L12.7,115.2L15.3,112.5L17.8,110.1L20.3,108.0L22.9,106.0L25.4,104.2L28.0,102.4L30.5,100.7L33.1,99.0L35.6,97.3L38.1,95.7L40.7,94.0L43.2,92.4L45.8,90.7L48.3,89.1L50.8,87.5L53.4,86.0L55.9,84.4L58.5,82.9L61.0,81.4L63.6,79.9L66.1,78.4L68.6,77.0L71.2,75.6L73.7,74.1L76.3,72.7L78.8,71.2L81.4,69.7L83.9,68.2L86.4,66.6L89.0,65.0L91.5,63.5L94.1,62.1L96.6,60.7L99.2,59.3L101.7,58.0L104.2,56.7L106.8,55.4L109.3,54.1L111.9,52.8L114.4,51.4L116.9,50.1L119.5,48.8L122.0,47.4L124.6,46.1L127.1,44.8L129.7,43.5L132.2,42.2L134.7,40.9L137.3,39.6L139.8,38.4L142.4,37.3L144.9,36.1L147.5,35.1L150.0,34.1M0.0,133.0L2.5,130.1L5.1,126.8L7.6,123.4L10.2,120.2L12.7,117.3L15.3,114.7L17.8,112.4L20.3,110.3L22.9,108.4L25.4,106.6L28.0,104.9L30.5,103.3L33.1,101.6L35.6,100.0L38.1,98.3L40.7,96.7L43.2,95.1L45.8,93.5L48.3,91.9L50.8,90.4L53.4,88.8L55.9,87.3L58.5,85.8L61.0,84.3L63.6,82.9L66.1,81.4L68.6,80.0L71.2,78.6L73.7,77.1L76.3,75.7L78.8,74.3L81.4,72.8L83.9,71.3L86.4,69.7L89.0,68.2L91.5,66.7L94.1,65.3L96.6,63.9L99.2,62.6L101.7,61.2L104.2,59.9L106.8,58.6L109.3,57.3L111.9,56.0L114.4,54.6L116.9,53.3L119.5,51.9L122.0,50.6L124.6,49.2L127.1,47.9L129.7,46.5L132.2,45.2L134.7,43.9L137.3,42.6L139.8,41.3L142.4,40.1L144.9,38.9L147.5,37.8L150.0,36.8M0.0,134.5L2.5,131.6L5.1,128.6L7.6,125.3L10.2,122.3L12.7,119.6L15.3,117.1L17.8,114.9L20.3,112.9L22.9,111.0L25.4,109.3L28.0,107.6L30.5,106.0L33.1,104.4L35.6,102.8L38.1,101.2L40.7,99.6L43.2,98.0L45.8,96.5L48.3,94.9L50.8,93.4L53.4,91.9L55.9,90.4L58.5,88.9L61.0,87.5L63.6,86.0L66.1,84.6L68.6,83.2L71.2,81.8L73.7,80.4L76.3,79.0L78.8,77.5L81.4,76.1L83.9,74.6L86.4,73.1L89.0,71.6L91.5,70.1L94.1,68.7L96.6,67.3L99.2,66.0L101.7,64.6L104.2,63.3L106.8,62.0L109.3,60.7L111.9,59.4L114.4,58.0L116.9,56.7L119.5,55.3L122.0,53.9L124.6,52.5L127.1,51.2L129.7,49.8L132.2,48.4L134.7,47.0L137.3,45.7L139.8,44.4L142.4,43.1L144.9,41.9L147.5,40.8L150.0,39.6M0.0,136.2L2.5,133.5L5.1,130.6L7.6,127.6L10.2,124.7L12.7,122.2L15.3,119.9L17.8,117.8L20.3,115.8L22.9,114.0L25.4,112.4L28.0,110.8L30.5,109.2L33.1,107.6L35.6,106.0L38.1,104.5L40.7,102.9L43.2,101.4L45.8,99.9L48.3,98.3L50.8,96.8L53.4,95.4L55.9,93.9L58.5,92.4L61.0,91.0L63.6,89.6L66.1,88.2L68.6,86.8L71.2,85.4L73.7,84.0L76.3,82.6L78.8,81.2L81.4,79.7L83.9,78.3L86.4,76.8L89.0,75.3L91.5,73.9L94.1,72.5L96.6,71.1L99.2,69.8L101.7,68.4L104.2,67.1L106.8,65.8L109.3,64.5L111.9,63.1L114.4,61.8L116.9,60.4L119.5,59.0L122.0,57.6L124.6,56.2L127.1,54.8L129.7,53.4L132.2,51.9L134.7,50.5L137.3,49.2L139.8,47.8L142.4,46.5L144.9,45.3L147.5,44.1L150.0,42.9M0.0,138.2L2.5,135.7L5.1,133.0L7.6,130.2L10.2,127.6L12.7,125.2L15.3,123.0L17.8,121.0L20.3,119.2L22.9,117.5L25.4,115.8L28.0,114.3L30.5,112.7L33.1,111.2L35.6,109.7L38.1,108.2L40.7,106.6L43.2,105.1L45.8,103.6L48.3,102.1L50.8,100.7L53.4,99.2L55.9,97.8L58.5,96.3L61.0,94.9L63.6,93.5L66.1,92.1L68.6,90.8L71.2,89.4L73.7,88.0L76.3,86.6L78.8,85.2L81.4,83.8L83.9,82.4L86.4,80.9L89.0,79.5L91.5,78.1L94.1,76.7L96.6,75.3L99.2,74.0L101.7,72.6L104.2,71.3L106.8,70.0L109.3,68.6L111.9,67.3L114.4,65.9L116.9,64.5L119.5,63.1L122.0,61.7L124.6,60.3L127.1,58.8L129.7,57.3L132.2,55.9L134.7,54.5L137.3,53.1L139.8,51.7L142.4,50.3L144.9,49.1L147.5,47.8L150.0,46.6M0.0,140.6L2.5,138.3L5.1,135.8L7.6,133.3L10.2,130.9L12.7,128.7L15.3,126.7L17.8,124.9L20.3,123.1L22.9,121.5L25.4,119.9L28.0,118.4L30.5,116.9L33.1,115.4L35.6,113.9L38.1,112.4L40.7,110.9L43.2,109.5L45.8,108.0L48.3,106.6L50.8,105.1L53.4,103.7L55.9,102.3L58.5,100.9L61.0,99.5L63.6,98.1L66.1,96.7L68.6,95.3L71.2,94.0L73.7,92.6L76.3,91.3L78.8,89.9L81.4,88.5L83.9,87.1L86.4,85.6L89.0,84.2L91.5,82.8L94.1,81.5L96.6,80.1L99.2,78.8L101.7,77.4L104.2,76.1L106.8,74.8L109.3,73.4L111.9,72.1L114.4,70.7L116.9,69.3L119.5,67.8L122.0,66.4L124.6,64.9L127.1,63.4L129.7,61.9L132.2,60.4L134.7,59.0L137.3,57.5L139.8,56.1L142.4,54.8L144.9,53.4L147.5,52.1L150.0,50.8M0.0,143.3L2.5,141.1L5.1,138.8L7.6,136.5L10.2,134.4L12.7,132.4L15.3,130.5L17.8,128.8L20.3,127.1L22.9,125.6L25.4,124.1L28.0,122.6L30.5,121.1L33.1,119.7L35.6,118.2L38.1,116.8L40.7,115.3L43.2,113.9L45.8,112.4L48.3,111.0L50.8,109.6L53.4,108.2L55.9,106.8L58.5,105.4L61.0,104.0L63.6,102.7L66.1,101.3L68.6,99.9L71.2,98.6L73.7,97.2L76.3,95.9L78.8,94.5L81.4,93.2L83.9,91.8L86.4,90.3L89.0,88.9L91.5,87.6L94.1,86.2L96.6,84.9L99.2,83.5L101.7,82.2L104.2,80.8L106.8,79.5L109.3,78.2L111.9,76.8L114.4,75.4L116.9,74.0L119.5,72.5L122.0,71.0L124.6,69.5L127.1,68.0L129.7,66.5L132.2,65.0L134.7,63.5L137.3,62.1L139.8,60.6L142.4,59.2L144.9,57.8L147.5,56.5L150.0,55.1M0.0,146.4L2.5,144.4L5.1,142.2L7.6,140.1L10.2,138.2L12.7,136.4L15.3,134.7L17.8,133.1L20.3,131.6L22.9,130.1L25.4,128.6L28.0,127.2L30.5,125.8L33.1,124.3L35.6,122.9L38.1,121.5L40.7,120.1L43.2,118.7L45.8,117.3L48.3,115.8L50.8,114.5L53.4,113.1L55.9,111.7L58.5,110.3L61.0,109.0L63.6,107.6L66.1,106.3L68.6,104.9L71.2,103.6L73.7,102.3L76.3,100.9L78.8,99.6L81.4,98.2L83.9,96.8L86.4,95.4L89.0,94.1L91.5,92.7L94.1,91.3L96.6,90.0L99.2,88.7L101.7,87.3L104.2,86.0L106.8,84.6L109.3,83.3L111.9,81.9L114.4,80.5L116.9,79.1L119.5,77.6L122.0,76.1L124.6,74.6L127.1,73.0L129.7,71.5L132.2,70.0L134.7,68.5L137.3,67.0L139.8,65.5L142.4,64.1L144.9,62.6L147.5,61.3L150.0,59.9M0.0,150.2L2.5,148.3L5.1,146.3L7.6,144.3L10.2,142.6L12.7,141.0L15.3,139.4L17.8,137.9L20.3,136.4L22.9,135.0L25.4,133.6L28.0,132.2L30.5,130.8L33.1,129.4L35.6,128.1L38.1,126.7L40.7,125.3L43.2,123.9L45.8,122.5L48.3,121.1L50.8,119.7L53.4,118.4L55.9,117.0L58.5,115.7L61.0,114.3L63.6,113.0L66.1,111.7L68.6,110.3L71.2,109.0L73.7,107.7L76.3,106.4L78.8,105.0L81.4,103.7L83.9,102.3L86.4,100.9L89.0,99.6L91.5,98.2L94.1,96.9L96.6,95.5L99.2,94.2L101.7,92.8L104.2,91.5L106.8,90.2L109.3,88.8L111.9,87.4L114.4,86.0L116.9,84.5L119.5,83.1L122.0,81.5L124.6,80.0L127.1,78.4L129.7,76.9L132.2,75.3L134.7,73.8L137.3,72.3L139.8,70.8L142.4,69.3L144.9,67.9L147.5,66.5L150.0,65.0" fill="none" stroke="#444" stroke-width="0.45"/><path d="M0.0,155.5L2.5,153.3L5.1,151.3L7.6,149.5L10.2,147.9L12.7,146.5L15.3,145.0L17.8,143.5L20.3,142.1L22.9,140.7L25.4,139.3L28.0,137.9L30.5,136.5L33.1,135.2L35.6,133.8L38.1,132.4L40.7,131.1L43.2,129.7L45.8,128.4L48.3,127.0L50.8,125.6L53.4,124.3L55.9,123.0L58.5,121.6L61.0,120.3L63.6,119.0L66.1,117.6L68.6,116.3L71.2,115.0L73.7,113.7L76.3,112.4L78.8,111.0L81.4,109.7L83.9,108.4L86.4,107.0L89.0,105.7L91.5,104.3L94.1,103.0L96.6,101.6L99.2,100.3L101.7,99.0L104.2,97.6L106.8,96.3L109.3,94.9L111.9,93.5L114.4,92.1L116.9,90.6L119.5,89.1L122.0,87.6L124.6,86.0L127.1,84.4L129.7,82.9L132.2,81.3L134.7,79.8L137.3,78.2L139.8,76.7L142.4,75.2L144.9,73.8L147.5,72.3L150.0,70.8M0.0,166.4L2.5,163.2L5.1,160.3L7.6,157.8L10.2,155.6L12.7,153.8L15.3,152.2L17.8,150.8L20.3,149.3L22.9,147.9L25.4,146.4L28.0,145.0L30.5,143.6L33.1,142.1L35.6,140.7L38.1,139.3L40.7,137.9L43.2,136.6L45.8,135.2L48.3,133.9L50.8,132.6L53.4,131.2L55.9,129.9L58.5,128.6L61.0,127.3L63.6,125.9L66.1,124.6L68.6,123.3L71.2,122.0L73.7,120.7L76.3,119.4L78.8,118.1L81.4,116.7L83.9,115.4L86.4,114.1L89.0,112.7L91.5,111.4L94.1,110.1L96.6,108.7L99.2,107.4L101.7,106.1L104.2,104.7L106.8,103.4L109.3,102.0L111.9,100.6L114.4,99.1L116.9,97.7L119.5,96.1L122.0,94.6L124.6,93.0L127.1,91.4L129.7,89.9L132.2,88.3L134.7,86.7L137.3,85.2L139.8,83.6L142.4,82.1L144.9,80.6L147.5,79.1L150.0,77.6M0.0,189.6L2.5,183.6L5.1,178.3L7.6,173.7L10.2,169.8L12.7,166.4L15.3,163.5L17.8,161.2L20.3,159.2L22.9,157.4L25.4,155.7L28.0,154.1L30.5,152.5L33.1,150.9L35.6,149.4L38.1,147.9L40.7,146.4L43.2,144.9L45.8,143.5L48.3,142.0L50.8,140.6L53.4,139.2L55.9,137.9L58.5,136.6L61.0,135.2L63.6,133.9L66.1,132.6L68.6,131.3L71.2,130.0L73.7,128.7L76.3,127.4L78.8,126.1L81.4,124.7L83.9,123.4L86.4,122.1L89.0,120.7L91.5,119.4L94.1,118.1L96.6,116.8L99.2,115.4L101.7,114.1L104.2,112.7L106.8,111.4L109.3,110.0L111.9,108.6L114.4,107.1L116.9,105.6L119.5,104.1L122.0,102.5L124.6,100.9L127.1,99.4L129.7,97.8L132.2,96.2L134.7,94.6L137.3,93.1L139.8,91.5L142.4,90.0L144.9,88.4L147.5,86.9L150.0,85.4M0.0,221.5L2.5,214.3L5.1,207.2L7.6,200.4L10.2,193.6L12.7,187.2L15.3,181.5L17.8,176.9L20.3,173.5L22.9,170.7L25.4,168.3L28.0,166.2L30.5,164.2L33.1,162.4L35.6,160.6L38.1,158.8L40.7,157.1L43.2,155.4L45.8,153.8L48.3,152.2L50.8,150.6L53.4,149.1L55.9,147.6L58.5,146.1L61.0,144.6L63.6,143.2L66.1,141.7L68.6,140.4L71.2,139.0L73.7,137.6L76.3,136.3L78.8,135.0L81.4,133.6L83.9,132.3L86.4,131.0L89.0,129.6L91.5,128.3L94.1,126.9L96.6,125.5L99.2,124.2L101.7,122.8L104.2,121.4L106.8,120.0L109.3,118.6L111.9,117.2L114.4,115.7L116.9,114.2L119.5,112.7L122.0,111.1L124.6,109.5L127.1,107.9L129.7,106.3L132.2,104.7L134.7,103.2L137.3,101.6L139.8,100.0L142.4,98.4L144.9,96.9L147.5,95.3L150.0,93.8M0.0,249.0L2.5,241.3L5.1,233.7L7.6,226.2L10.2,218.9L12.7,211.8L15.3,204.8L17.8,198.0L20.3,192.1L22.9,187.5L25.4,183.8L28.0,180.8L30.5,178.2L33.1,175.9L35.6,173.6L38.1,171.6L40.7,169.6L43.2,167.6L45.8,165.7L48.3,163.9L50.8,162.1L53.4,160.4L55.9,158.6L58.5,156.9L61.0,155.3L63.6,153.6L66.1,152.0L68.6,150.5L71.2,148.9L73.7,147.4L76.3,145.9L78.8,144.4L81.4,142.9L83.9,141.4L86.4,140.0L89.0,138.5L91.5,137.1L94.1,135.7L96.6,134.3L99.2,132.9L101.7,131.4L104.2,130.0L106.8,128.5L109.3,126.9L111.9,125.4L114.4,123.8L116.9,122.2L119.5,120.5L122.0,118.9L124.6,117.3L127.1,115.7L129.7,114.1L132.2,112.5L134.7,110.9L137.3,109.3L139.8,107.8L142.4,106.2L144.9,104.6L147.5,103.0L150.0,101.5M0.0,275.4L2.5,267.1L5.1,259.0L7.6,251.1L10.2,243.3L12.7,235.6L15.3,228.1L17.8,220.8L20.3,213.7L22.9,207.9L25.4,203.1L28.0,199.2L30.5,195.7L33.1,192.6L35.6,189.8L38.1,187.2L40.7,184.8L43.2,182.5L45.8,180.3L48.3,178.1L50.8,176.0L53.4,174.0L55.9,172.0L58.5,170.0L61.0,168.1L63.6,166.2L66.1,164.4L68.6,162.6L71.2,160.8L73.7,159.0L76.3,157.3L78.8,155.6L81.4,153.9L83.9,152.2L86.4,150.5L89.0,148.8L91.5,147.2L94.1,145.6L96.6,143.9L99.2,142.3L101.7,140.7L104.2,139.0L106.8,137.3L109.3,135.6L111.9,133.9L114.4,132.1L116.9,130.2L119.5,128.3L122.0,126.4L124.6,124.6L127.1,122.8L129.7,121.1L132.2,119.4L134.7,117.8L137.3,116.2L139.8,114.6L142.4,113.1L144.9,111.5L147.5,109.9L150.0,108.3M0.0,303.3L2.5,294.5L5.1,285.9L7.6,277.4L10.2,269.1L12.7,260.9L15.3,252.9L17.8,245.1L20.3,237.4L22.9,230.3L25.4,224.5L28.0,219.7L30.5,215.6L33.1,211.9L35.6,208.6L38.1,205.5L40.7,202.6L43.2,199.9L45.8,197.3L48.3,194.8L50.8,192.3L53.4,189.9L55.9,187.6L58.5,185.4L61.0,183.1L63.6,181.0L66.1,178.8L68.6,176.7L71.2,174.7L73.7,172.6L76.3,170.6L78.8,168.6L81.4,166.6L83.9,164.7L86.4,162.7L89.0,160.8L91.5,158.9L94.1,156.9L96.6,155.0L99.2,153.1L101.7,151.1L104.2,149.1L106.8,147.1L109.3,145.1L111.9,143.0L114.4,140.8L116.9,138.6L119.5,136.3L122.0,134.1L124.6,131.9L127.1,129.9L129.7,127.9L132.2,126.0L134.7,124.2L137.3,122.4L139.8,120.8L142.4,119.1L144.9,117.5L147.5,116.0L150.0,114.4M0.0,332.1L2.5,322.7L5.1,313.5L7.6,304.5L10.2,295.7L12.7,287.0L15.3,278.5L17.8,270.2L20.3,262.0L22.9,254.1L25.4,247.4L28.0,241.6L30.5,236.7L33.1,232.4L35.6,228.5L38.1,225.0L40.7,221.6L43.2,218.5L45.8,215.5L48.3,212.6L50.8,209.8L53.4,207.0L55.9,204.4L58.5,201.8L61.0,199.2L63.6,196.7L66.1,194.3L68.6,191.9L71.2,189.5L73.7,187.2L76.3,184.9L78.8,182.6L81.4,180.3L83.9,178.1L86.4,175.8L89.0,173.6L91.5,171.4L94.1,169.1L96.6,166.9L99.2,164.6L101.7,162.2L104.2,159.9L106.8,157.5L109.3,155.0L111.9,152.4L114.4,149.8L116.9,147.1L119.5,144.3L122.0,141.7L124.6,139.2L127.1,136.8L129.7,134.6L132.2,132.4L134.7,130.4L137.3,128.4L139.8,126.5L142.4,124.6L144.9,122.9L147.5,121.2L150.0,119.5M0.0,360.4L2.5,350.6L5.1,340.8L7.6,331.3L10.2,322.0L12.7,312.8L15.3,303.8L17.8,295.0L20.3,286.3L22.9,278.0L25.4,270.7L28.0,264.5L30.5,259.1L33.1,254.3L35.6,249.8L38.1,245.8L40.7,241.9L43.2,238.3L45.8,234.9L48.3,231.6L50.8,228.4L53.4,225.3L55.9,222.3L58.5,219.3L61.0,216.4L63.6,213.6L66.1,210.8L68.6,208.1L71.2,205.4L73.7,202.7L76.3,200.1L78.8,197.5L81.4,194.9L83.9,192.4L86.4,189.8L89.0,187.3L91.5,184.8L94.1,182.2L96.6,179.6L99.2,177.0L101.7,174.3L104.2,171.5L106.8,168.7L109.3,165.7L111.9,162.6L114.4,159.4L116.9,156.1L119.5,152.8L122.0,149.7L124.6,146.8L127.1,144.0L129.7,141.4L132.2,138.9L134.7,136.6L137.3,134.3L139.8,132.2L142.4,130.1L144.9,128.2L147.5,126.3L150.0,124.4M0.0,388.8L2.5,378.4L5.1,368.2L7.6,358.1L10.2,348.3L12.7,338.6L15.3,329.1L17.8,319.8L20.3,310.7L22.9,301.9L25.4,294.2L28.0,287.5L30.5,281.7L33.1,276.4L35.6,271.5L38.1,267.0L40.7,262.8L43.2,258.8L45.8,254.9L48.3,251.2L50.8,247.6L53.4,244.1L55.9,240.7L58.5,237.4L61.0,234.2L63.6,231.0L66.1,227.8L68.6,224.7L71.2,221.7L73.7,218.7L76.3,215.8L78.8,212.8L81.4,209.9L83.9,207.1L86.4,204.2L89.0,201.4L91.5,198.5L94.1,195.6L96.6,192.7L99.2,189.7L101.7,186.7L104.2,183.6L106.8,180.4L109.3,177.0L111.9,173.4L114.4,169.6L116.9,165.6L119.5,161.8L122.0,158.2L124.6,154.8L127.1,151.6L129.7,148.5L132.2,145.6L134.7,142.9L137.3,140.4L139.8,138.0L142.4,135.7L144.9,133.5L147.5,131.4L150.0,129.4M0.0,417.0L2.5,406.0L5.1,395.3L7.6,384.7L10.2,374.3L12.7,364.2L15.3,354.2L17.8,344.4L20.3,334.9L22.9,325.6L25.4,317.4L28.0,310.3L30.5,304.0L33.1,298.3L35.6,293.1L38.1,288.2L40.7,283.5L43.2,279.1L45.8,274.9L48.3,270.8L50.8,266.8L53.4,263.0L55.9,259.2L58.5,255.5L61.0,251.9L63.6,248.4L66.1,244.9L68.6,241.4L71.2,238.0L73.7,234.7L76.3,231.4L78.8,228.1L81.4,224.9L83.9,221.7L86.4,218.5L89.0,215.3L91.5,212.1L94.1,208.9L96.6,205.6L99.2,202.3L101.7,198.9L104.2,195.4L106.8,191.8L109.3,188.0L111.9,184.1L114.4,179.9L116.9,175.5L119.5,171.3L122.0,167.2L124.6,163.2L127.1,159.5L129.7,156.1L132.2,152.8L134.7,149.7L137.3,146.7L139.8,144.0L142.4,141.3L144.9,138.9L147.5,136.5L150.0,134.3M0.0,444.9L2.5,433.4L5.1,422.1L7.6,411.1L10.2,400.2L12.7,389.6L15.3,379.1L17.8,368.9L20.3,358.8L22.9,349.1L25.4,340.5L28.0,333.0L30.5,326.2L33.1,320.1L35.6,314.5L38.1,309.1L40.7,304.1L43.2,299.3L45.8,294.7L48.3,290.2L50.8,285.9L53.4,281.7L55.9,277.6L58.5,273.5L61.0,269.6L63.6,265.7L66.1,261.9L68.6,258.1L71.2,254.4L73.7,250.7L76.3,247.1L78.8,243.5L81.4,239.8L83.9,236.3L86.4,232.7L89.0,229.1L91.5,225.5L94.1,221.9L96.6,218.3L99.2,214.6L101.7,210.8L104.2,206.9L106.8,202.9L109.3,198.7L111.9,194.4L114.4,189.8L116.9,185.2L119.5,180.8L122.0,176.4L124.6,172.2L127.1,168.0L129.7,164.0L132.2,160.3L134.7,156.8L137.3,153.4L139.8,150.3L142.4,147.3L144.9,144.5L147.5,141.9L150.0,139.4M0.0,472.8L2.5,460.8L5.1,449.0L7.6,437.4L10.2,426.1L12.7,415.0L15.3,404.0L17.8,393.3L20.3,382.8L22.9,372.6L25.4,363.6L28.0,355.6L30.5,348.4L33.1,341.9L35.6,335.8L38.1,330.1L40.7,324.7L43.2,319.5L45.8,314.5L48.3,309.6L50.8,304.9L53.4,300.4L55.9,295.9L58.5,291.5L61.0,287.2L63.6,283.0L66.1,278.9L68.6,274.8L71.2,270.7L73.7,266.8L76.3,262.8L78.8,258.9L81.4,255.0L83.9,251.1L86.4,247.1L89.0,243.2L91.5,239.2L94.1,235.1L96.6,231.0L99.2,226.9L101.7,222.7L104.2,218.3L106.8,213.8L109.3,209.2L111.9,204.3L114.4,199.5L116.9,194.8L119.5,190.2L122.0,185.7L124.6,181.2L127.1,176.8L129.7,172.6L132.2,168.4L134.7,164.4L137.3,160.6L139.8,157.1L142.4,153.7L144.9,150.6L147.5,147.6L150.0,144.8M0.0,500.7L2.5,488.2L5.1,475.9L7.6,463.8L10.2,452.0L12.7,440.3L15.3,428.9L17.8,417.7L20.3,406.8L22.9,396.1L25.4,386.6L28.0,378.2L30.5,370.6L33.1,363.7L35.6,357.2L38.1,351.1L40.7,345.2L43.2,339.7L45.8,334.3L48.3,329.1L50.8,324.0L53.4,319.1L55.9,314.2L58.5,309.5L61.0,304.9L63.6,300.3L66.1,295.8L68.6,291.4L71.2,287.1L73.7,282.8L76.3,278.6L78.8,274.3L81.4,270.1L83.9,265.9L86.4,261.7L89.0,257.5L91.5,253.2L94.1,248.8L96.6,244.2L99.2,239.5L101.7,234.7L104.2,229.8L106.8,224.8L109.3,219.6L111.9,214.5L114.4,209.5L116.9,204.6L119.5,199.8L122.0,195.1L124.6,190.4L127.1,185.9L129.7,181.4L132.2,177.1L134.7,172.8L137.3,168.6L139.8,164.6L142.4,160.8L144.9,157.3L147.5,153.9L150.0,150.7M0.0,528.6L2.5,515.6L5.1,502.7L7.6,490.1L10.2,477.8L12.7,465.7L15.3,453.8L17.8,442.1L20.3,430.7L22.9,419.6L25.4,409.7L28.0,400.8L30.5,392.8L33.1,385.4L35.6,378.5L38.1,372.0L40.7,365.8L43.2,359.8L45.8,354.1L48.3,348.5L50.8,343.1L53.4,337.8L55.9,332.6L58.5,327.5L61.0,322.5L63.6,317.6L66.1,312.8L68.6,308.1L71.2,303.5L73.7,298.9L76.3,294.3L78.8,289.8L81.4,285.3L83.9,280.8L86.4,276.3L89.0,271.8L91.5,267.2L94.1,262.5L96.6,257.7L99.2,252.7L101.7,247.5L104.2,242.0L106.8,236.4L109.3,231.0L111.9,225.7L114.4,220.5L116.9,215.4L119.5,210.3L122.0,205.4L124.6,200.6L127.1,195.9L129.7,191.2L132.2,186.7L134.7,182.2L137.3,177.8L139.8,173.5L142.4,169.3L144.9,165.2L147.5,161.4L150.0,157.8M0.0,556.5L2.5,542.9L5.1,529.6L7.6,516.5L10.2,503.7L12.7,491.0L15.3,478.7L17.8,466.6L20.3,454.7L22.9,443.1L25.4,432.7L28.0,423.5L30.5,415.0L33.1,407.2L35.6,399.9L38.1,393.0L40.7,386.4L43.2,380.0L45.8,373.9L48.3,367.9L50.8,362.1L53.4,356.4L55.9,350.9L58.5,345.5L61.0,340.2L63.6,335.0L66.1,329.8L68.6,324.8L71.2,319.8L73.7,314.9L76.3,310.0L78.8,305.2L81.4,300.4L83.9,295.7L86.4,290.9L89.0,286.1L91.5,281.2L94.1,276.3L96.6,271.2L99.2,266.0L101.7,260.5L104.2,254.7L106.8,248.9L109.3,243.3L111.9,237.7L114.4,232.3L116.9,227.0L119.5,221.7L122.0,216.6L124.6,211.5L127.1,206.6L129.7,201.7L132.2,197.0L134.7,192.3L137.3,187.7L139.8,183.2L142.4,178.8L144.9,174.5L147.5,170.3L150.0,166.2M0.0,584.4L2.5,570.3L5.1,556.4L7.6,542.8L10.2,529.5L12.7,516.4L15.3,503.6L17.8,491.0L20.3,478.6L22.9,466.6L25.4,455.8L28.0,446.1L30.5,437.2L33.1,429.0L35.6,421.3L38.1,413.9L40.7,406.9L43.2,400.2L45.8,393.7L48.3,387.3L50.8,381.2L53.4,375.1L55.9,369.2L58.5,363.5L61.0,357.8L63.6,352.3L66.1,346.8L68.6,341.4L71.2,336.2L73.7,330.9L76.3,325.8L78.8,320.7L81.4,315.6L83.9,310.5L86.4,305.5L89.0,300.4L91.5,295.3L94.1,290.1L96.6,284.7L99.2,279.2L101.7,273.5L104.2,267.5L106.8,261.5L109.3,255.6L111.9,249.8L114.4,244.1L116.9,238.5L119.5,233.1L122.0,227.7L124.6,222.5L127.1,217.3L129.7,212.3L132.2,207.3L134.7,202.4L137.3,197.7L139.8,193.0L142.4,188.4L144.9,183.9L147.5,179.5L150.0,175.1M0.0,612.3L2.5,597.7L5.1,583.3L7.6,569.2L10.2,555.3L12.7,541.8L15.3,528.4L17.8,515.4L20.3,502.6L22.9,490.1L25.4,478.8L28.0,468.7L30.5,459.4L33.1,450.8L35.6,442.6L38.1,434.9L40.7,427.5L43.2,420.4L45.8,413.4L48.3,406.7L50.8,400.2L53.4,393.8L55.9,387.6L58.5,381.5L61.0,375.5L63.6,369.6L66.1,363.8L68.6,358.1L71.2,352.5L73.7,347.0L76.3,341.5L78.8,336.1L81.4,330.7L83.9,325.4L86.4,320.1L89.0,314.7L91.5,309.3L94.1,303.8L96.6,298.2L99.2,292.5L101.7,286.5L104.2,280.2L106.8,274.0L109.3,267.8L111.9,261.8L114.4,255.9L116.9,250.1L119.5,244.5L122.0,238.9L124.6,233.4L127.1,228.1L129.7,222.8L132.2,217.6L134.7,212.6L137.3,207.6L139.8,202.7L142.4,198.0L144.9,193.3L147.5,188.7L150.0,184.2M0.0,640.2L2.5,625.0L5.1,610.1L7.6,595.5L10.2,581.2L12.7,567.1L15.3,553.3L17.8,539.8L20.3,526.5L22.9,513.6L25.4,501.9L28.0,491.3L30.5,481.6L33.1,472.5L35.6,464.0L38.1,455.8L40.7,448.0L43.2,440.5L45.8,433.2L48.3,426.2L50.8,419.3L53.4,412.5L55.9,405.9L58.5,399.5L61.0,393.1L63.6,386.9L66.1,380.8L68.6,374.8L71.2,368.9L73.7,363.0L76.3,357.3L78.8,351.6L81.4,345.9L83.9,340.3L86.4,334.7L89.0,329.0L91.5,323.4L94.1,317.6L96.6,311.8L99.2,305.7L101.7,299.5L104.2,293.0L106.8,286.5L109.3,280.1L111.9,273.9L114.4,267.8L116.9,261.7L119.5,255.8L122.0,250.1L124.6,244.4L127.1,238.8L129.7,233.3L132.2,228.0L134.7,222.7L137.3,217.6L139.8,212.5L142.4,207.5L144.9,202.7L147.5,197.9L150.0,193.2" fill="none" stroke="#2c2c2c" stroke-width="0.75"/></g><path d="M4.4,114.9L8.0,109.3L11.7,104.8L15.3,101.0L19.0,97.8L22.6,95.1L26.2,92.5L29.9,89.9L33.5,87.3L37.2,84.7L40.8,82.2L44.5,79.6L48.1,77.1L51.7,74.6L55.4,72.2L59.0,69.7L62.7,67.4L66.3,65.1L69.9,62.8L73.6,60.6L77.2,58.5L80.9,56.4L84.5,54.4L88.1,52.4L91.8,50.5L95.4,48.6L99.1,46.8L102.7,44.9L106.3,43.0L110.0,41.2L113.6,39.4L117.3,37.7L120.9,36.1L124.6,34.7L128.2,33.2L131.8,31.7L135.5,30.4L139.1,29.2L142.8,28.1L146.4,27.1L142.8,32.6L139.0,38.2L135.4,43.7L132.3,49.2L129.6,54.8L127.3,60.3L125.6,65.9L124.2,71.4L123.2,76.9L122.5,82.5L121.9,88.0L121.5,93.5L121.1,99.1L120.8,104.6L120.4,110.1L120.0,115.7L119.7,121.2L119.3,126.7L118.9,132.3L118.5,137.8L118.1,143.4L117.6,148.9L117.2,154.4L116.7,160.0L116.1,165.5L115.6,171.0L114.9,176.6L114.3,182.1L113.6,187.6L112.9,193.2L112.1,198.7L111.2,204.2L110.3,209.8L109.3,215.3L108.3,220.9L107.2,226.4L106.0,231.9L104.7,237.5L103.4,243.0L24.8,243.0L24.4,238.6L24.0,234.3L23.6,229.9L23.3,225.5L22.9,221.2L22.5,216.8L22.1,212.4L21.8,208.1L21.3,203.7L20.9,199.3L20.5,195.0L20.0,190.6L19.5,186.2L19.0,181.9L18.4,177.5L17.8,173.2L17.1,168.8L16.4,164.4L15.7,160.1L14.8,155.7L13.9,151.3L13.0,147.0L12.0,142.6L10.9,138.2L9.7,133.9L8.5,129.5L7.2,125.1L5.7,120.8L4.2,116.4Z" fill="none" stroke="#1a1a1a" stroke-width="0.8"/><path d="M146.8,27.1L142.8,32.6L139.0,38.2L135.4,43.7L132.3,49.2L129.6,54.8L127.3,60.3L125.6,65.9L124.2,71.4L123.2,76.9L122.5,82.5L121.9,88.0L121.5,93.5L121.1,99.1L120.8,104.6L120.4,110.1L120.0,115.7L119.7,121.2L119.3,126.7L118.9,132.3L118.5,137.8L118.1,143.4L117.6,148.9L117.2,154.4L116.7,160.0L116.1,165.5L115.6,171.0L114.9,176.6L114.3,182.1L113.6,187.6L112.9,193.2L112.1,198.7L111.2,204.2L110.3,209.8L109.3,215.3L108.3,220.9L107.2,226.4L106.0,231.9L104.7,237.5L103.4,243.0" fill="none" stroke="#111" stroke-width="1.4"/><path d="M5.9,118.7L8.0,122.8L9.9,126.9L11.6,131.1L12.9,135.4L14.1,139.7L15.2,144.0L16.2,148.3L17.2,152.6L18.1,156.9L19.0,161.2L19.8,165.5L20.5,169.8L21.3,174.1L21.9,178.4L22.5,182.7L23.1,187.0L23.7,191.3L24.2,195.6L24.7,199.9L25.2,204.2L25.6,208.4L26.1,212.7L26.5,217.0L26.9,221.3L27.3,225.6L27.8,229.8L28.2,234.1L28.6,238.3L29.1,242.6" fill="none" stroke="#303030" stroke-width="0.8"/><path d="M5.0,118.6L7.4,115.1L9.8,112.5L12.2,109.6L14.6,107.0L17.0,104.8L19.4,102.7L21.8,100.8L24.2,99.1L26.6,97.5L29.0,96.0L31.4,94.4L33.8,92.7L36.2,91.0L38.6,89.3L40.9,87.7L43.3,86.1L45.7,84.4L48.1,82.9L50.5,81.3L52.9,79.7L55.3,78.2L57.7,76.7L60.1,75.2L62.5,73.8L64.9,72.3L67.3,70.9L69.7,69.5L72.1,68.0L74.5,66.6L76.9,65.1L79.3,63.5L81.7,62.0L84.1,60.3L86.5,58.7L88.9,57.1L91.3,55.5L93.7,53.9L96.1,52.4L98.5,50.9L100.9,49.5L103.3,48.2L105.7,46.9L108.1,45.6L110.5,44.3L112.8,42.9L115.2,41.6L117.6,40.3L120.0,39.0L122.4,37.7L124.8,36.5L127.2,35.3L129.6,34.1L132.0,32.9L134.4,31.8L136.8,30.8L139.2,29.8L141.6,28.8L144.0,27.9L146.4,27.1L146.4,27.4L144.0,29.1L141.6,30.8L139.2,32.7L136.8,34.1L134.4,35.1L132.0,36.2L129.6,37.3L127.2,38.5L124.8,39.6L122.4,40.9L120.0,42.1L117.6,43.3L115.2,44.5L112.8,45.8L110.5,47.0L108.1,48.2L105.7,49.4L103.3,50.6L100.9,51.8L98.5,53.2L96.1,54.5L93.7,56.0L91.3,57.4L88.9,59.0L86.5,60.6L84.1,62.2L81.7,63.9L79.3,65.4L76.9,67.0L74.5,68.5L72.1,69.9L69.7,71.4L67.3,72.8L64.9,74.2L62.5,75.7L60.1,77.1L57.7,78.6L55.3,80.1L52.9,81.6L50.5,83.2L48.1,84.8L45.7,86.3L43.3,88.0L40.9,89.6L38.6,91.2L36.2,92.9L33.8,94.6L31.4,96.3L29.0,97.9L26.6,99.4L24.2,101.0L21.8,102.7L19.4,104.6L17.0,106.7L14.6,108.9L12.2,111.5L9.8,114.4L7.4,117.0L5.0,120.5Z" fill="#2e2e2e" opacity="0.9"/><defs><linearGradient id="rg" x1="0" y1="0" x2="146.4" y2="0" gradientUnits="userSpaceOnUse"><stop offset="0" stop-color="#d40000"/><stop offset="0.6" stop-color="#d00000"/><stop offset="0.85" stop-color="#a80000"/><stop offset="1" stop-color="#400000"/></linearGradient></defs><path d="M4.4,114.9L7.3,110.3L10.2,106.5L13.1,103.2L16.0,100.4L18.9,97.9L21.8,95.7L24.7,93.7L27.6,91.6L30.5,89.5L33.4,87.4L36.3,85.4L39.2,83.3L42.1,81.3L45.0,79.3L47.9,77.2L50.8,75.3L53.7,73.3L56.6,71.4L59.5,69.4L62.4,67.6L65.3,65.7L68.2,63.9L71.1,62.1L74.0,60.4L76.8,58.7L79.7,57.0L82.6,55.4L85.5,53.8L88.4,52.3L91.3,50.8L94.2,49.2L97.1,47.8L100.0,46.3L102.9,44.8L105.8,43.2L108.7,41.8L111.6,40.4L114.5,39.0L117.4,37.7L120.3,36.4L123.2,35.2L126.1,34.0L129.0,32.8L131.9,31.7L134.8,30.6L137.7,29.6L140.6,28.7L143.5,27.9L146.4,27.1L146.4,27.4L143.5,28.4L140.7,29.5L137.8,30.7L134.9,31.9L132.0,33.2L129.2,34.6L126.3,36.0L123.4,37.5L120.5,39.0L117.7,40.6L114.8,42.2L111.9,43.8L109.0,45.3L106.2,46.9L103.3,48.5L100.4,50.1L97.6,51.8L94.7,53.6L91.8,55.4L88.9,57.4L86.1,59.3L83.2,61.3L80.3,63.2L77.4,65.0L74.6,66.8L71.7,68.6L68.8,70.3L65.9,72.0L63.1,73.7L60.2,75.5L57.3,77.2L54.4,79.1L51.6,80.9L48.7,82.8L45.8,84.7L43.0,86.6L40.1,88.6L37.2,90.6L34.3,92.6L31.5,94.6L28.6,96.5L25.7,98.3L22.8,100.3L20.0,102.5L17.1,105.0L14.2,107.7L11.3,110.9L8.5,114.2L5.6,117.7L4.3,117.1L4.0,116.1Z" fill="url(#rg)" stroke="#6a0000" stroke-width="0.4"/><clipPath id="rbc"><path d="M4.4,114.9L7.3,110.3L10.2,106.5L13.1,103.2L16.0,100.4L18.9,97.9L21.8,95.7L24.7,93.7L27.6,91.6L30.5,89.5L33.4,87.4L36.3,85.4L39.2,83.3L42.1,81.3L45.0,79.3L47.9,77.2L50.8,75.3L53.7,73.3L56.6,71.4L59.5,69.4L62.4,67.6L65.3,65.7L68.2,63.9L71.1,62.1L74.0,60.4L76.8,58.7L79.7,57.0L82.6,55.4L85.5,53.8L88.4,52.3L91.3,50.8L94.2,49.2L97.1,47.8L100.0,46.3L102.9,44.8L105.8,43.2L108.7,41.8L111.6,40.4L114.5,39.0L117.4,37.7L120.3,36.4L123.2,35.2L126.1,34.0L129.0,32.8L131.9,31.7L134.8,30.6L137.7,29.6L140.6,28.7L143.5,27.9L146.4,27.1L146.4,27.4L143.5,28.4L140.7,29.5L137.8,30.7L134.9,31.9L132.0,33.2L129.2,34.6L126.3,36.0L123.4,37.5L120.5,39.0L117.7,40.6L114.8,42.2L111.9,43.8L109.0,45.3L106.2,46.9L103.3,48.5L100.4,50.1L97.6,51.8L94.7,53.6L91.8,55.4L88.9,57.4L86.1,59.3L83.2,61.3L80.3,63.2L77.4,65.0L74.6,66.8L71.7,68.6L68.8,70.3L65.9,72.0L63.1,73.7L60.2,75.5L57.3,77.2L54.4,79.1L51.6,80.9L48.7,82.8L45.8,84.7L43.0,86.6L40.1,88.6L37.2,90.6L34.3,92.6L31.5,94.6L28.6,96.5L25.7,98.3L22.8,100.3L20.0,102.5L17.1,105.0L14.2,107.7L11.3,110.9L8.5,114.2L5.6,117.7L4.3,117.1L4.0,116.1Z"/></clipPath><g clip-path="url(#rbc)"><path d="M5.0,119.5L7.9,115.4L10.8,112.2L13.7,108.9L16.5,106.1L19.4,103.6L22.3,101.3L25.2,99.3L28.1,97.4L31.0,95.5L33.9,93.5L36.7,91.5L39.6,89.5L42.5,87.5L45.4,85.6L48.3,83.7L51.2,81.8L54.1,79.9L56.9,78.1L59.8,76.3L62.7,74.5L65.6,72.8L68.5,71.1L71.4,69.4L74.3,67.6L77.1,65.8L80.0,64.0L82.9,62.0L85.8,60.1L88.7,58.1L91.6,56.2L94.5,54.3L97.3,52.5L100.2,50.8L103.1,49.2L106.0,47.6L108.9,46.0L111.8,44.4L114.7,42.8L117.5,41.3L120.4,39.7L123.3,38.2L126.2,36.7L129.1,35.3L132.0,33.9L134.9,32.5L137.7,31.3L140.6,30.1L143.5,29.0L146.4,28.0" fill="none" stroke="#8a0000" stroke-width="3.2"/><path d="M7.1,111.5L6.2,116.5M9.7,107.9L8.8,113.5M12.3,104.8L11.4,110.4M14.9,102.0L14.0,107.6M17.5,99.6L16.6,105.2M20.1,97.4L19.2,102.9M22.7,95.4L21.8,100.9M25.3,93.7L24.4,99.0M27.9,91.8L27.0,97.3M30.5,89.9L29.6,95.7M33.1,88.0L32.2,93.9M35.7,86.2L34.8,92.0M38.3,84.4L37.4,90.2M40.9,82.5L40.0,88.4M43.5,80.7L42.6,86.7M46.1,78.9L45.2,84.9M48.7,77.1L47.8,83.2M51.3,75.3L50.4,81.5M53.9,73.5L53.0,79.8M56.5,71.8L55.6,78.1M59.1,70.1L58.2,76.5M61.7,68.4L60.8,74.9M64.3,66.7L63.4,73.3M66.9,65.1L66.0,71.8M69.5,63.4L68.6,70.3M72.1,61.8L71.2,68.7M74.7,60.3L73.8,67.1M77.3,58.8L76.4,65.5M79.9,57.3L79.0,63.8M82.5,55.8L81.6,62.1M85.1,54.4L84.2,60.4M87.7,53.0L86.8,58.6M90.3,51.6L89.4,56.9M92.9,50.3L92.0,55.1M95.5,48.9L94.6,53.4M98.1,47.6L97.2,51.8M100.7,46.3L99.8,50.2M103.3,44.9L102.4,48.8M105.9,43.5L105.0,47.4M108.5,42.2L107.6,45.9M111.1,40.9L110.2,44.5M113.7,39.7L112.8,43.1M116.3,38.4L115.4,41.7M118.9,37.3L118.0,40.2M121.5,36.1L120.6,38.8M124.1,35.1L123.2,37.5M126.7,34.1L125.8,36.1M129.3,33.0L128.4,34.8M131.9,31.9L131.0,33.6M134.5,30.9L133.6,32.4M137.1,30.0L136.2,31.2M139.7,29.2L138.8,30.1M142.3,28.4L141.4,29.1" fill="none" stroke="#900000" stroke-width="0.5"/></g><path d="M4.4,114.9L7.3,110.3L10.2,106.5L13.1,103.2L16.0,100.4L18.9,97.9L21.8,95.7L24.7,93.7L27.6,91.6L30.5,89.5L33.4,87.4L36.3,85.4L39.2,83.3L42.1,81.3L45.0,79.3L47.9,77.2L50.8,75.3L53.7,73.3L56.6,71.4L59.5,69.4L62.4,67.6L65.3,65.7L68.2,63.9L71.1,62.1L74.0,60.4L76.8,58.7L79.7,57.0L82.6,55.4L85.5,53.8L88.4,52.3L91.3,50.8L94.2,49.2L97.1,47.8L100.0,46.3L102.9,44.8L105.8,43.2L108.7,41.8L111.6,40.4L114.5,39.0L117.4,37.7L120.3,36.4L123.2,35.2L126.1,34.0L129.0,32.8L131.9,31.7L134.8,30.6L137.7,29.6L140.6,28.7L143.5,27.9L146.4,27.1" fill="none" stroke="#600000" stroke-width="0.5"/></g>
<g><line x1="256.0" y1="77.35" x2="541.9" y2="77.35" stroke="#8c8c8c" stroke-width="0.8" stroke-dasharray="0.9,1.4"/><line x1="256.0" y1="124.30" x2="541.9" y2="124.30" stroke="#8c8c8c" stroke-width="0.8" stroke-dasharray="0.9,1.4"/><line x1="256.0" y1="171.25" x2="541.9" y2="171.25" stroke="#8c8c8c" stroke-width="0.8" stroke-dasharray="0.9,1.4"/><line x1="327.6" y1="30.4" x2="327.6" y2="218.2" stroke="#8c8c8c" stroke-width="0.8" stroke-dasharray="0.9,1.4"/><line x1="399.1" y1="30.4" x2="399.1" y2="218.2" stroke="#8c8c8c" stroke-width="0.8" stroke-dasharray="0.9,1.4"/><line x1="470.6" y1="30.4" x2="470.6" y2="218.2" stroke="#8c8c8c" stroke-width="0.8" stroke-dasharray="0.9,1.4"/><line x1="256.0" y1="77.35" x2="258.8" y2="77.35" stroke="#707070" stroke-width="1"/><line x1="539.1" y1="77.35" x2="541.9" y2="77.35" stroke="#707070" stroke-width="1"/><line x1="256.0" y1="124.30" x2="258.8" y2="124.30" stroke="#707070" stroke-width="1"/><line x1="539.1" y1="124.30" x2="541.9" y2="124.30" stroke="#707070" stroke-width="1"/><line x1="256.0" y1="171.25" x2="258.8" y2="171.25" stroke="#707070" stroke-width="1"/><line x1="539.1" y1="171.25" x2="541.9" y2="171.25" stroke="#707070" stroke-width="1"/><line x1="327.6" y1="30.4" x2="327.6" y2="33.199999999999996" stroke="#707070" stroke-width="1"/><line x1="327.6" y1="215.39999999999998" x2="327.6" y2="218.2" stroke="#707070" stroke-width="1"/><line x1="399.1" y1="30.4" x2="399.1" y2="33.199999999999996" stroke="#707070" stroke-width="1"/><line x1="399.1" y1="215.39999999999998" x2="399.1" y2="218.2" stroke="#707070" stroke-width="1"/><line x1="470.6" y1="30.4" x2="470.6" y2="33.199999999999996" stroke="#707070" stroke-width="1"/><line x1="470.6" y1="215.39999999999998" x2="470.6" y2="218.2" stroke="#707070" stroke-width="1"/><line x1="268.8" y1="199.6" x2="296.4" y2="199.6" stroke="#0000ff" stroke-width="1.4"/><line x1="268.8" y1="209.8" x2="296.4" y2="209.8" stroke="#ff0000" stroke-width="1.4"/><text x="302.6" y="203.3" class="lg">CFD Open Tip</text><text x="302.6" y="213.4" class="lg">CFD Meshed Tip</text><polyline points="320.0,59.8 335.0,60.0 353.5,60.8 363.0,65.0 371.0,65.3 380.0,67.0 390.0,67.0 398.0,68.8 408.6,68.8 416.8,70.0 425.5,70.3 434.5,100.4 443.2,100.4 452.6,114.2 462.0,114.2 468.6,115.5 478.9,115.7 488.4,143.2 497.5,143.4 506.0,184.5 518.0,184.6 524.0,185.7 541.0,186.0" fill="none" stroke="#0000ff" stroke-width="2" stroke-linejoin="round"/><polyline points="256.0,60.2 273.0,59.6 274.0,58.8 281.0,58.8 283.0,59.8 353.5,59.7 363.0,62.8 425.5,63.0 434.5,90.0 443.2,90.0 452.6,101.0 478.9,100.8 487.8,126.6 497.5,126.7 506.0,166.3 541.0,166.3" fill="none" stroke="#ff0000" stroke-width="2" stroke-linejoin="round"/><line x1="375" y1="47" x2="365.07" y2="56.41" stroke="#000" stroke-width="1"/><polygon points="361.8,59.5 363.69,54.95 366.44,57.86" fill="#000"/><line x1="446.8" y1="63.4" x2="436.68" y2="72.92" stroke="#000" stroke-width="1"/><polygon points="433.4,76 435.31,71.46 438.05,74.37" fill="#000"/><line x1="463.4" y1="83.2" x2="453.78" y2="92.22" stroke="#000" stroke-width="1"/><polygon points="450.5,95.3 452.41,90.76 455.15,93.68" fill="#000"/><line x1="499.8" y1="104.2" x2="490.04" y2="113.58" stroke="#000" stroke-width="1"/><polygon points="486.8,116.7 488.66,112.14 491.43,115.02" fill="#000"/><line x1="519.5" y1="139.5" x2="509.30" y2="148.94" stroke="#000" stroke-width="1"/><polygon points="506,152 507.94,147.48 510.66,150.41" fill="#000"/><text transform="translate(367.2,44.5) scale(1,1.05)" class="eb">EB01</text><text transform="translate(438.6,61.6) scale(1,1.05)" class="eb">EB02</text><text transform="translate(456.1,80.5) scale(1,1.05)" class="eb">EB03</text><text transform="translate(492.6,101.4) scale(1,1.05)" class="eb">EB04</text><text transform="translate(511.7,137.2) scale(1,1.05)" class="eb">EB05</text><rect x="256.0" y="30.4" width="285.9" height="187.79999999999998" fill="none" stroke="#707070" stroke-width="1.5"/><text x="249.4" y="33.5" class="tk" text-anchor="end">0.02</text><text x="249.4" y="80.9" class="tk" text-anchor="end">-0.02</text><text x="249.4" y="127.8" class="tk" text-anchor="end">-0.06</text><text x="249.4" y="174.8" class="tk" text-anchor="end">-0.1</text><text x="249.4" y="222.1" class="tk" text-anchor="end">-0.14</text><text x="399" y="15.2" class="ttl" text-anchor="middle">Mass flow rate</text><text x="399" y="239.2" class="xl" text-anchor="middle">Axial position</text><g transform="translate(209.6,147.3) rotate(-90)"><text class="yl" x="-0.2" y="0" style="font-size:11.5px">Δ</text><text class="yl" transform="translate(8.2,0) scale(1,1.22)">m</text><text class="yl" transform="translate(19.1,0) scale(1.5,1.2)">/</text><text class="yl" transform="translate(23.6,0) scale(1,1.22)">m</text><text class="yl" x="33.0" y="2.3" style="font-size:10px">ref</text><text class="yl" style="font-size:13px"><tspan x="10.9" y="-1.3">˙</tspan><tspan x="26.2" y="-1.3">˙</tspan></text></g><text y="266.2" class="cap"><tspan x="360.4">(</tspan><tspan x="364.4" class="capb" style="font-size:15px">b</tspan><tspan x="373.8">)</tspan></text><text y="266.2" class="cap"><tspan x="63.8">(</tspan><tspan x="68.0" class="capb" style="font-size:14.6px">a</tspan><tspan x="76.0">)</tspan></text></g>
</svg>
</body></html>
